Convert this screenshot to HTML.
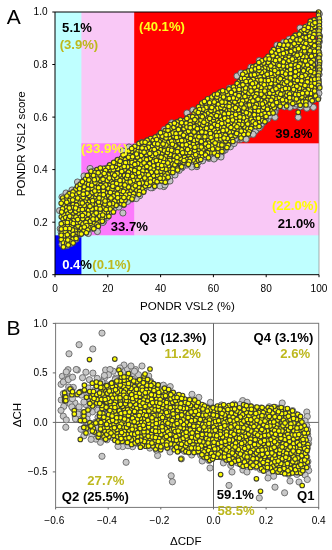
<!DOCTYPE html>
<html><head><meta charset="utf-8"><title>Figure</title>
<style>
html,body{margin:0;padding:0;background:#fff;}
svg{display:block;filter:blur(0.3px);}
text{font-family:"Liberation Sans",Arial,sans-serif;}
.t{font-size:10.1px;fill:#000;}
.at{font-size:11.6px;fill:#000;}
.b{font-size:13.1px;font-weight:bold;}
.pl{font-size:21px;}
</style></head><body>
<svg width="332" height="550" viewBox="0 0 332 550">
<rect x="0" y="0" width="332" height="550" fill="#fff"/>

<rect x="55.0" y="12.0" width="264.0" height="262.7" fill="#bfffff"/>
<rect x="81.4" y="12.0" width="237.6" height="223.3" fill="#f9c8f6"/>
<rect x="134.2" y="12.0" width="184.8" height="131.3" fill="#ff0000"/>
<rect x="81.4" y="143.3" width="52.8" height="91.9" fill="#fc7afc"/>
<rect x="55.0" y="235.3" width="26.4" height="39.4" fill="#0000ff"/>
<path d="M62.0,197.5 L68.5,194.6 L75.0,189.1 L81.5,183.1 L88.1,174.6 L94.6,170.3 L101.1,168.4 L107.6,166.6 L114.1,162.6 L120.6,157.5 L127.1,152.4 L133.6,147.5 L140.2,143.7 L146.7,141.0 L153.2,137.6 L159.7,133.8 L166.2,128.3 L172.7,123.4 L179.2,121.1 L185.7,118.6 L192.3,114.6 L198.8,107.0 L205.3,101.1 L211.8,96.8 L218.3,93.5 L224.8,90.2 L231.3,86.9 L237.8,80.8 L244.4,73.4 L250.9,68.2 L257.4,62.5 L263.9,59.2 L270.4,53.2 L276.9,47.5 L283.4,43.3 L289.9,39.6 L296.5,35.1 L303.0,29.8 L309.5,22.8 L316.0,16.7 L316.0,95.3 L309.5,98.8 L303.0,103.0 L296.5,103.0 L289.9,103.0 L283.4,104.0 L276.9,107.1 L270.4,113.6 L263.9,120.1 L257.4,126.6 L250.9,131.5 L244.4,135.5 L237.8,137.4 L231.3,142.7 L224.8,148.0 L218.3,152.8 L211.8,154.3 L205.3,155.7 L198.8,161.2 L192.3,163.0 L185.7,163.0 L179.2,168.5 L172.7,172.6 L166.2,180.5 L159.7,182.8 L153.2,184.9 L146.7,188.0 L140.2,193.1 L133.6,197.3 L127.1,201.2 L120.6,204.9 L114.1,208.9 L107.6,215.4 L101.1,221.9 L94.6,227.0 L88.1,230.6 L81.5,232.8 L75.0,239.0 L68.5,243.7 L62.0,243.6Z" fill="#3a3a2c"/>
<g fill="#c4c4c4" stroke="#555" stroke-width="0.9"><circle cx="143.6" cy="190.0" r="3.1"/><circle cx="227.0" cy="145.8" r="3.1"/><circle cx="197.6" cy="162.8" r="3.1"/><circle cx="75.8" cy="239.2" r="3.1"/><circle cx="70.6" cy="243.5" r="3.1"/><circle cx="78.8" cy="234.5" r="3.1"/><circle cx="169.3" cy="178.8" r="3.1"/><circle cx="92.6" cy="228.2" r="3.1"/><circle cx="221.0" cy="153.6" r="3.1"/><circle cx="208.2" cy="155.7" r="3.1"/><circle cx="309.9" cy="97.5" r="3.1"/><circle cx="279.9" cy="105.0" r="3.1"/><circle cx="97.8" cy="224.3" r="3.1"/><circle cx="139.7" cy="195.7" r="3.1"/><circle cx="107.1" cy="217.2" r="3.1"/><circle cx="223.9" cy="149.2" r="3.1"/><circle cx="200.7" cy="158.6" r="3.1"/><circle cx="234.5" cy="140.2" r="3.1"/><circle cx="176.6" cy="170.3" r="3.1"/><circle cx="263.6" cy="122.2" r="3.1"/><circle cx="123.2" cy="204.7" r="3.1"/><circle cx="247.0" cy="134.4" r="3.1"/><circle cx="256.0" cy="129.0" r="3.1"/><circle cx="284.2" cy="104.1" r="3.1"/><circle cx="275.2" cy="111.6" r="3.1"/><circle cx="181.9" cy="167.8" r="3.1"/><circle cx="270.6" cy="113.5" r="3.1"/><circle cx="159.4" cy="184.5" r="3.1"/><circle cx="66.8" cy="245.5" r="3.1"/><circle cx="132.0" cy="199.0" r="3.1"/><circle cx="152.5" cy="187.7" r="3.1"/><circle cx="305.2" cy="102.6" r="3.1"/><circle cx="62.0" cy="244.3" r="3.1"/><circle cx="192.5" cy="164.5" r="3.1"/><circle cx="290.4" cy="105.1" r="3.1"/><circle cx="87.4" cy="232.4" r="3.1"/><circle cx="114.2" cy="208.5" r="3.1"/><circle cx="147.7" cy="186.4" r="3.1"/><circle cx="82.9" cy="231.8" r="3.1"/><circle cx="127.6" cy="201.4" r="3.1"/><circle cx="103.6" cy="221.5" r="3.1"/><circle cx="267.9" cy="119.0" r="3.1"/><circle cx="118.8" cy="207.0" r="3.1"/><circle cx="299.9" cy="106.0" r="3.1"/><circle cx="111.2" cy="211.7" r="3.1"/><circle cx="252.3" cy="131.3" r="3.1"/><circle cx="239.3" cy="139.5" r="3.1"/><circle cx="260.9" cy="125.7" r="3.1"/><circle cx="188.5" cy="162.7" r="3.1"/><circle cx="164.2" cy="182.5" r="3.1"/><circle cx="243.6" cy="138.2" r="3.1"/><circle cx="315.7" cy="96.8" r="3.1"/><circle cx="297.3" cy="102.5" r="3.1"/><circle cx="214.3" cy="152.8" r="3.1"/><circle cx="136.2" cy="198.6" r="3.1"/><circle cx="230.4" cy="143.1" r="3.1"/><circle cx="184.1" cy="163.1" r="3.1"/><circle cx="172.5" cy="174.6" r="3.1"/><circle cx="154.6" cy="184.0" r="3.1"/><circle cx="203.9" cy="155.7" r="3.1"/><circle cx="213.2" cy="156.9" r="3.1"/><circle cx="309.5" cy="101.7" r="3.1"/><circle cx="276.1" cy="107.4" r="3.1"/><circle cx="217.5" cy="156.0" r="3.1"/><circle cx="294.9" cy="106.0" r="3.1"/><circle cx="96.8" cy="228.4" r="3.1"/><circle cx="276.9" cy="107.2" r="3.1"/><circle cx="313.2" cy="100.0" r="3.1"/><circle cx="230.4" cy="146.8" r="3.1"/><circle cx="296.4" cy="104.0" r="3.1"/><circle cx="234.1" cy="143.5" r="3.1"/><circle cx="269.9" cy="115.9" r="3.1"/><circle cx="265.2" cy="119.8" r="3.1"/><circle cx="241.3" cy="139.1" r="3.1"/><circle cx="290.9" cy="103.9" r="3.1"/><circle cx="235.2" cy="139.1" r="3.1"/><circle cx="284.4" cy="106.8" r="3.1"/><circle cx="274.3" cy="112.1" r="3.1"/><circle cx="248.6" cy="134.8" r="3.1"/><circle cx="304.1" cy="104.1" r="3.1"/><circle cx="255.7" cy="130.6" r="3.1"/><circle cx="308.9" cy="102.8" r="3.1"/><circle cx="261.7" cy="123.7" r="3.1"/><circle cx="225.2" cy="150.0" r="3.1"/><circle cx="315.7" cy="95.9" r="3.1"/><circle cx="300.3" cy="106.8" r="3.1"/><circle cx="259.3" cy="127.8" r="3.1"/><circle cx="246.1" cy="139.2" r="3.1"/><circle cx="253.1" cy="134.3" r="3.1"/><circle cx="223.0" cy="151.1" r="3.1"/><circle cx="209.0" cy="158.4" r="3.1"/><circle cx="179.1" cy="170.4" r="3.1"/><circle cx="186.8" cy="165.0" r="3.1"/><circle cx="157.1" cy="184.3" r="3.1"/><circle cx="170.0" cy="176.6" r="3.1"/><circle cx="202.6" cy="160.8" r="3.1"/><circle cx="166.7" cy="181.8" r="3.1"/><circle cx="212.2" cy="154.2" r="3.1"/><circle cx="215.5" cy="157.4" r="3.1"/><circle cx="150.8" cy="187.8" r="3.1"/><circle cx="198.1" cy="162.2" r="3.1"/><circle cx="191.8" cy="167.0" r="3.1"/><circle cx="175.0" cy="175.0" r="3.1"/><circle cx="220.9" cy="155.2" r="3.1"/><circle cx="163.8" cy="186.6" r="3.1"/><circle cx="182.6" cy="166.7" r="3.1"/><circle cx="196.9" cy="166.6" r="3.1"/><circle cx="204.7" cy="156.5" r="3.1"/><circle cx="161.6" cy="182.6" r="3.1"/><circle cx="84.3" cy="179.8" r="3.1"/><circle cx="283.7" cy="42.4" r="3.1"/><circle cx="187.7" cy="118.8" r="3.1"/><circle cx="278.3" cy="46.3" r="3.1"/><circle cx="259.3" cy="60.5" r="3.1"/><circle cx="117.5" cy="160.9" r="3.1"/><circle cx="164.4" cy="129.5" r="3.1"/><circle cx="147.9" cy="142.1" r="3.1"/><circle cx="106.6" cy="168.2" r="3.1"/><circle cx="210.9" cy="99.1" r="3.1"/><circle cx="141.6" cy="142.6" r="3.1"/><circle cx="250.9" cy="67.2" r="3.1"/><circle cx="137.1" cy="146.9" r="3.1"/><circle cx="308.0" cy="26.2" r="3.1"/><circle cx="216.3" cy="95.9" r="3.1"/><circle cx="289.3" cy="39.2" r="3.1"/><circle cx="273.7" cy="50.3" r="3.1"/><circle cx="128.9" cy="152.6" r="3.1"/><circle cx="171.8" cy="122.8" r="3.1"/><circle cx="229.6" cy="88.1" r="3.1"/><circle cx="95.1" cy="171.5" r="3.1"/><circle cx="301.2" cy="32.1" r="3.1"/><circle cx="295.7" cy="35.8" r="3.1"/><circle cx="243.1" cy="76.3" r="3.1"/><circle cx="181.8" cy="121.5" r="3.1"/><circle cx="195.5" cy="112.7" r="3.1"/><circle cx="79.9" cy="184.5" r="3.1"/><circle cx="66.7" cy="197.1" r="3.1"/><circle cx="76.0" cy="189.4" r="3.1"/><circle cx="159.0" cy="135.6" r="3.1"/><circle cx="319.3" cy="14.0" r="3.1"/><circle cx="318.7" cy="19.5" r="3.1"/><circle cx="318.7" cy="25.0" r="3.1"/><circle cx="318.5" cy="30.5" r="3.1"/><circle cx="319.6" cy="36.0" r="3.1"/><circle cx="319.4" cy="41.5" r="3.1"/><circle cx="318.4" cy="47.0" r="3.1"/><circle cx="318.7" cy="52.5" r="3.1"/><circle cx="318.6" cy="58.0" r="3.1"/><circle cx="318.7" cy="63.5" r="3.1"/><circle cx="319.1" cy="69.0" r="3.1"/><circle cx="319.1" cy="74.5" r="3.1"/><circle cx="318.4" cy="80.0" r="3.1"/><circle cx="318.6" cy="85.5" r="3.1"/><circle cx="90.1" cy="168.5" r="3.1"/><circle cx="93.5" cy="171.5" r="3.1"/><circle cx="77.5" cy="182.0" r="3.1"/><circle cx="72.0" cy="190.0" r="3.1"/><circle cx="62.0" cy="197.0" r="3.1"/><circle cx="59.6" cy="210.6" r="3.1"/><circle cx="60.3" cy="228.7" r="3.1"/><circle cx="61.2" cy="232.3" r="3.1"/><circle cx="88.3" cy="233.5" r="3.1"/><circle cx="97.4" cy="231.5" r="3.1"/><circle cx="102.8" cy="222.5" r="3.1"/><circle cx="66.0" cy="193.0" r="3.1"/><circle cx="84.0" cy="176.0" r="3.1"/><circle cx="123.0" cy="151.0" r="3.1"/><circle cx="129.0" cy="147.0" r="3.1"/><circle cx="187.0" cy="113.0" r="3.1"/><circle cx="193.0" cy="110.0" r="3.1"/><circle cx="237.0" cy="76.0" r="3.1"/><circle cx="241.0" cy="73.0" r="3.1"/><circle cx="277.0" cy="45.0" r="3.1"/><circle cx="300.0" cy="28.0" r="3.1"/><circle cx="122.9" cy="213.0" r="3.1"/><circle cx="160.0" cy="186.0" r="3.1"/><circle cx="165.0" cy="185.0" r="3.1"/><circle cx="170.0" cy="181.0" r="3.1"/><circle cx="214.0" cy="159.0" r="3.1"/><circle cx="221.0" cy="157.0" r="3.1"/><circle cx="318.0" cy="87.5" r="3.1"/><circle cx="318.9" cy="93.3" r="3.1"/><circle cx="318.0" cy="98.2" r="3.1"/><circle cx="289.9" cy="107.3" r="3.1"/><circle cx="306.8" cy="108.2" r="3.1"/><circle cx="313.4" cy="107.3" r="3.1"/><circle cx="298.2" cy="117.3" r="3.1"/><circle cx="275.0" cy="117.3" r="3.1"/><circle cx="304.8" cy="99.9" r="3.1"/><circle cx="308.9" cy="104.0" r="3.1"/></g>
<g fill="#ffff00" stroke="#3e3e2e" stroke-width="1.1"><circle cx="184.8" cy="140.8" r="2.3"/><circle cx="174.9" cy="130.6" r="2.3"/><circle cx="62.1" cy="232.0" r="2.3"/><circle cx="305.1" cy="26.8" r="2.3"/><circle cx="292.0" cy="92.4" r="2.3"/><circle cx="280.8" cy="63.1" r="2.3"/><circle cx="239.1" cy="100.6" r="2.3"/><circle cx="220.6" cy="126.9" r="2.3"/><circle cx="106.0" cy="193.0" r="2.3"/><circle cx="165.3" cy="147.9" r="2.3"/><circle cx="118.8" cy="201.1" r="2.3"/><circle cx="180.7" cy="158.8" r="2.3"/><circle cx="85.1" cy="182.9" r="2.3"/><circle cx="91.1" cy="216.3" r="2.3"/><circle cx="285.0" cy="97.8" r="2.3"/><circle cx="282.2" cy="86.2" r="2.3"/><circle cx="194.2" cy="113.3" r="2.3"/><circle cx="179.9" cy="143.2" r="2.3"/><circle cx="191.8" cy="149.7" r="2.3"/><circle cx="218.4" cy="104.6" r="2.3"/><circle cx="150.2" cy="158.5" r="2.3"/><circle cx="244.8" cy="127.0" r="2.3"/><circle cx="230.7" cy="95.6" r="2.3"/><circle cx="278.5" cy="47.4" r="2.3"/><circle cx="80.7" cy="205.7" r="2.3"/><circle cx="136.3" cy="183.1" r="2.3"/><circle cx="201.9" cy="106.0" r="2.3"/><circle cx="111.5" cy="200.8" r="2.3"/><circle cx="185.3" cy="147.6" r="2.3"/><circle cx="112.4" cy="173.5" r="2.3"/><circle cx="309.7" cy="74.2" r="2.3"/><circle cx="70.3" cy="197.7" r="2.3"/><circle cx="101.0" cy="171.8" r="2.3"/><circle cx="110.2" cy="169.8" r="2.3"/><circle cx="115.3" cy="190.2" r="2.3"/><circle cx="252.7" cy="93.8" r="2.3"/><circle cx="286.1" cy="41.3" r="2.3"/><circle cx="61.3" cy="216.8" r="2.3"/><circle cx="165.1" cy="130.7" r="2.3"/><circle cx="196.4" cy="143.3" r="2.3"/><circle cx="71.6" cy="226.2" r="2.3"/><circle cx="121.4" cy="158.0" r="2.3"/><circle cx="165.9" cy="179.6" r="2.3"/><circle cx="146.5" cy="171.7" r="2.3"/><circle cx="313.9" cy="40.7" r="2.3"/><circle cx="277.7" cy="77.1" r="2.3"/><circle cx="253.9" cy="89.9" r="2.3"/><circle cx="285.8" cy="56.1" r="2.3"/><circle cx="153.3" cy="169.4" r="2.3"/><circle cx="216.5" cy="120.4" r="2.3"/><circle cx="170.5" cy="128.7" r="2.3"/><circle cx="174.7" cy="141.6" r="2.3"/><circle cx="248.5" cy="70.9" r="2.3"/><circle cx="112.1" cy="206.5" r="2.3"/><circle cx="209.3" cy="130.1" r="2.3"/><circle cx="239.5" cy="128.4" r="2.3"/><circle cx="113.4" cy="193.0" r="2.3"/><circle cx="127.1" cy="191.7" r="2.3"/><circle cx="81.4" cy="212.2" r="2.3"/><circle cx="184.6" cy="157.2" r="2.3"/><circle cx="68.9" cy="237.4" r="2.3"/><circle cx="284.4" cy="80.2" r="2.3"/><circle cx="105.0" cy="197.6" r="2.3"/><circle cx="314.3" cy="88.0" r="2.3"/><circle cx="136.6" cy="193.5" r="2.3"/><circle cx="122.6" cy="163.5" r="2.3"/><circle cx="92.2" cy="192.8" r="2.3"/><circle cx="102.4" cy="202.6" r="2.3"/><circle cx="95.3" cy="187.5" r="2.3"/><circle cx="184.6" cy="120.5" r="2.3"/><circle cx="296.6" cy="90.9" r="2.3"/><circle cx="84.2" cy="187.1" r="2.3"/><circle cx="217.2" cy="151.9" r="2.3"/><circle cx="78.0" cy="213.8" r="2.3"/><circle cx="76.0" cy="228.2" r="2.3"/><circle cx="64.6" cy="240.1" r="2.3"/><circle cx="212.5" cy="140.7" r="2.3"/><circle cx="78.0" cy="226.1" r="2.3"/><circle cx="133.4" cy="153.8" r="2.3"/><circle cx="80.6" cy="199.4" r="2.3"/><circle cx="252.7" cy="66.9" r="2.3"/><circle cx="80.1" cy="230.9" r="2.3"/><circle cx="73.2" cy="212.9" r="2.3"/><circle cx="107.3" cy="205.9" r="2.3"/><circle cx="286.6" cy="47.8" r="2.3"/><circle cx="91.2" cy="212.7" r="2.3"/><circle cx="169.5" cy="137.8" r="2.3"/><circle cx="302.2" cy="73.3" r="2.3"/><circle cx="298.2" cy="74.5" r="2.3"/><circle cx="99.1" cy="221.9" r="2.3"/><circle cx="125.9" cy="154.3" r="2.3"/><circle cx="270.3" cy="106.8" r="2.3"/><circle cx="198.4" cy="153.3" r="2.3"/><circle cx="203.9" cy="139.6" r="2.3"/><circle cx="136.5" cy="167.3" r="2.3"/><circle cx="179.6" cy="162.8" r="2.3"/><circle cx="73.2" cy="204.5" r="2.3"/><circle cx="67.9" cy="205.0" r="2.3"/><circle cx="125.1" cy="188.6" r="2.3"/><circle cx="226.6" cy="110.2" r="2.3"/><circle cx="262.1" cy="110.2" r="2.3"/><circle cx="63.4" cy="205.6" r="2.3"/><circle cx="79.4" cy="203.1" r="2.3"/><circle cx="95.1" cy="205.1" r="2.3"/><circle cx="196.9" cy="125.6" r="2.3"/><circle cx="242.6" cy="89.8" r="2.3"/><circle cx="241.9" cy="97.3" r="2.3"/><circle cx="103.5" cy="168.3" r="2.3"/><circle cx="188.6" cy="140.6" r="2.3"/><circle cx="239.7" cy="120.8" r="2.3"/><circle cx="173.5" cy="160.6" r="2.3"/><circle cx="239.4" cy="81.3" r="2.3"/><circle cx="98.3" cy="183.4" r="2.3"/><circle cx="299.4" cy="60.8" r="2.3"/><circle cx="283.6" cy="69.7" r="2.3"/><circle cx="268.1" cy="56.3" r="2.3"/><circle cx="104.0" cy="182.3" r="2.3"/><circle cx="136.3" cy="190.0" r="2.3"/><circle cx="85.6" cy="217.3" r="2.3"/><circle cx="90.6" cy="174.3" r="2.3"/><circle cx="250.0" cy="101.4" r="2.3"/><circle cx="160.6" cy="145.5" r="2.3"/><circle cx="256.3" cy="121.0" r="2.3"/><circle cx="277.5" cy="57.4" r="2.3"/><circle cx="108.4" cy="174.9" r="2.3"/><circle cx="217.4" cy="108.3" r="2.3"/><circle cx="121.4" cy="194.1" r="2.3"/><circle cx="161.2" cy="175.3" r="2.3"/><circle cx="295.0" cy="83.1" r="2.3"/><circle cx="80.7" cy="195.9" r="2.3"/><circle cx="232.2" cy="112.8" r="2.3"/><circle cx="210.8" cy="122.0" r="2.3"/><circle cx="105.5" cy="176.0" r="2.3"/><circle cx="143.1" cy="158.5" r="2.3"/><circle cx="122.0" cy="178.2" r="2.3"/><circle cx="120.7" cy="187.6" r="2.3"/><circle cx="148.9" cy="143.6" r="2.3"/><circle cx="286.1" cy="63.4" r="2.3"/><circle cx="238.9" cy="114.1" r="2.3"/><circle cx="184.0" cy="128.7" r="2.3"/><circle cx="301.4" cy="46.2" r="2.3"/><circle cx="235.4" cy="121.4" r="2.3"/><circle cx="246.7" cy="108.8" r="2.3"/><circle cx="96.3" cy="199.4" r="2.3"/><circle cx="105.3" cy="216.5" r="2.3"/><circle cx="215.7" cy="146.8" r="2.3"/><circle cx="144.2" cy="145.5" r="2.3"/><circle cx="237.3" cy="105.3" r="2.3"/><circle cx="210.9" cy="152.8" r="2.3"/><circle cx="73.0" cy="238.9" r="2.3"/><circle cx="157.9" cy="156.0" r="2.3"/><circle cx="225.2" cy="123.0" r="2.3"/><circle cx="310.6" cy="96.5" r="2.3"/><circle cx="181.6" cy="149.8" r="2.3"/><circle cx="77.2" cy="222.5" r="2.3"/><circle cx="135.3" cy="173.8" r="2.3"/><circle cx="251.8" cy="124.4" r="2.3"/><circle cx="83.8" cy="191.2" r="2.3"/><circle cx="66.4" cy="207.5" r="2.3"/><circle cx="314.0" cy="19.9" r="2.3"/><circle cx="251.3" cy="75.1" r="2.3"/><circle cx="130.0" cy="177.9" r="2.3"/><circle cx="131.3" cy="190.8" r="2.3"/><circle cx="128.8" cy="162.6" r="2.3"/><circle cx="306.6" cy="40.6" r="2.3"/><circle cx="217.1" cy="128.8" r="2.3"/><circle cx="92.2" cy="204.3" r="2.3"/><circle cx="276.8" cy="95.4" r="2.3"/><circle cx="281.7" cy="82.4" r="2.3"/><circle cx="180.4" cy="120.1" r="2.3"/><circle cx="294.1" cy="40.7" r="2.3"/><circle cx="206.0" cy="110.6" r="2.3"/><circle cx="183.8" cy="124.8" r="2.3"/><circle cx="152.2" cy="146.5" r="2.3"/><circle cx="141.1" cy="179.9" r="2.3"/><circle cx="214.2" cy="130.3" r="2.3"/><circle cx="283.6" cy="93.6" r="2.3"/><circle cx="289.9" cy="101.0" r="2.3"/><circle cx="80.3" cy="222.2" r="2.3"/><circle cx="308.0" cy="85.9" r="2.3"/><circle cx="135.2" cy="177.8" r="2.3"/><circle cx="227.8" cy="117.8" r="2.3"/><circle cx="246.8" cy="85.2" r="2.3"/><circle cx="75.3" cy="189.8" r="2.3"/><circle cx="177.2" cy="121.9" r="2.3"/><circle cx="150.5" cy="138.5" r="2.3"/><circle cx="67.4" cy="225.8" r="2.3"/><circle cx="272.6" cy="59.7" r="2.3"/><circle cx="292.3" cy="48.8" r="2.3"/><circle cx="267.6" cy="84.1" r="2.3"/><circle cx="201.3" cy="112.7" r="2.3"/><circle cx="248.2" cy="79.5" r="2.3"/><circle cx="232.2" cy="131.4" r="2.3"/><circle cx="88.7" cy="202.0" r="2.3"/><circle cx="96.5" cy="219.0" r="2.3"/><circle cx="203.9" cy="129.6" r="2.3"/><circle cx="229.7" cy="109.5" r="2.3"/><circle cx="250.7" cy="107.9" r="2.3"/><circle cx="273.3" cy="102.3" r="2.3"/><circle cx="213.3" cy="120.1" r="2.3"/><circle cx="264.8" cy="80.7" r="2.3"/><circle cx="98.7" cy="190.8" r="2.3"/><circle cx="162.2" cy="153.3" r="2.3"/><circle cx="250.3" cy="97.7" r="2.3"/><circle cx="199.7" cy="115.4" r="2.3"/><circle cx="166.5" cy="159.9" r="2.3"/><circle cx="207.6" cy="98.8" r="2.3"/><circle cx="229.2" cy="132.0" r="2.3"/><circle cx="235.5" cy="94.6" r="2.3"/><circle cx="154.7" cy="157.7" r="2.3"/><circle cx="193.2" cy="137.2" r="2.3"/><circle cx="189.2" cy="155.5" r="2.3"/><circle cx="109.6" cy="164.9" r="2.3"/><circle cx="267.1" cy="105.4" r="2.3"/><circle cx="187.7" cy="137.3" r="2.3"/><circle cx="308.3" cy="60.5" r="2.3"/><circle cx="243.8" cy="121.7" r="2.3"/><circle cx="99.3" cy="206.1" r="2.3"/><circle cx="237.1" cy="130.2" r="2.3"/><circle cx="268.4" cy="71.5" r="2.3"/><circle cx="153.6" cy="175.8" r="2.3"/><circle cx="121.0" cy="167.2" r="2.3"/><circle cx="266.9" cy="65.9" r="2.3"/><circle cx="124.0" cy="180.7" r="2.3"/><circle cx="261.1" cy="100.4" r="2.3"/><circle cx="117.7" cy="168.8" r="2.3"/><circle cx="297.8" cy="52.0" r="2.3"/><circle cx="261.4" cy="117.9" r="2.3"/><circle cx="117.1" cy="180.5" r="2.3"/><circle cx="211.7" cy="145.7" r="2.3"/><circle cx="194.1" cy="126.7" r="2.3"/><circle cx="129.6" cy="153.9" r="2.3"/><circle cx="219.8" cy="92.2" r="2.3"/><circle cx="76.1" cy="200.6" r="2.3"/><circle cx="236.5" cy="86.9" r="2.3"/><circle cx="219.1" cy="141.6" r="2.3"/><circle cx="275.4" cy="85.9" r="2.3"/><circle cx="196.3" cy="117.2" r="2.3"/><circle cx="298.4" cy="37.2" r="2.3"/><circle cx="207.0" cy="116.9" r="2.3"/><circle cx="302.9" cy="37.4" r="2.3"/><circle cx="244.0" cy="114.8" r="2.3"/><circle cx="169.4" cy="169.3" r="2.3"/><circle cx="250.3" cy="111.1" r="2.3"/><circle cx="208.7" cy="125.8" r="2.3"/><circle cx="240.9" cy="107.0" r="2.3"/><circle cx="260.9" cy="65.2" r="2.3"/><circle cx="268.4" cy="97.5" r="2.3"/><circle cx="110.1" cy="184.3" r="2.3"/><circle cx="172.0" cy="163.7" r="2.3"/><circle cx="124.9" cy="169.8" r="2.3"/><circle cx="298.5" cy="42.6" r="2.3"/><circle cx="147.1" cy="140.2" r="2.3"/><circle cx="197.5" cy="121.7" r="2.3"/><circle cx="141.2" cy="155.6" r="2.3"/><circle cx="216.3" cy="132.5" r="2.3"/><circle cx="107.3" cy="212.4" r="2.3"/><circle cx="276.7" cy="63.4" r="2.3"/><circle cx="146.6" cy="154.7" r="2.3"/><circle cx="227.9" cy="94.4" r="2.3"/><circle cx="72.7" cy="217.6" r="2.3"/><circle cx="290.8" cy="40.6" r="2.3"/><circle cx="153.2" cy="140.3" r="2.3"/><circle cx="76.2" cy="194.2" r="2.3"/><circle cx="121.3" cy="203.7" r="2.3"/><circle cx="208.4" cy="139.9" r="2.3"/><circle cx="179.2" cy="155.5" r="2.3"/><circle cx="164.1" cy="171.9" r="2.3"/><circle cx="169.0" cy="145.7" r="2.3"/><circle cx="115.5" cy="166.4" r="2.3"/><circle cx="247.3" cy="116.6" r="2.3"/><circle cx="131.9" cy="166.0" r="2.3"/><circle cx="275.8" cy="53.2" r="2.3"/><circle cx="304.2" cy="82.8" r="2.3"/><circle cx="115.9" cy="186.4" r="2.3"/><circle cx="96.2" cy="208.2" r="2.3"/><circle cx="153.6" cy="165.7" r="2.3"/><circle cx="75.8" cy="211.6" r="2.3"/><circle cx="143.2" cy="167.8" r="2.3"/><circle cx="306.2" cy="37.7" r="2.3"/><circle cx="263.8" cy="63.1" r="2.3"/><circle cx="313.3" cy="64.7" r="2.3"/><circle cx="214.2" cy="113.9" r="2.3"/><circle cx="195.9" cy="110.9" r="2.3"/><circle cx="213.2" cy="104.9" r="2.3"/><circle cx="150.0" cy="167.9" r="2.3"/><circle cx="313.3" cy="59.9" r="2.3"/><circle cx="258.7" cy="107.1" r="2.3"/><circle cx="110.1" cy="209.0" r="2.3"/><circle cx="134.8" cy="161.3" r="2.3"/><circle cx="91.9" cy="177.9" r="2.3"/><circle cx="192.8" cy="122.1" r="2.3"/><circle cx="257.0" cy="76.8" r="2.3"/><circle cx="166.2" cy="155.9" r="2.3"/><circle cx="161.9" cy="139.2" r="2.3"/><circle cx="62.7" cy="198.1" r="2.3"/><circle cx="261.8" cy="60.8" r="2.3"/><circle cx="80.0" cy="217.4" r="2.3"/><circle cx="163.5" cy="133.4" r="2.3"/><circle cx="226.1" cy="91.5" r="2.3"/><circle cx="286.8" cy="95.2" r="2.3"/><circle cx="174.4" cy="151.4" r="2.3"/><circle cx="66.7" cy="210.8" r="2.3"/><circle cx="125.3" cy="159.7" r="2.3"/><circle cx="85.2" cy="208.2" r="2.3"/><circle cx="199.1" cy="149.3" r="2.3"/><circle cx="234.3" cy="128.4" r="2.3"/><circle cx="289.3" cy="54.2" r="2.3"/><circle cx="264.7" cy="113.4" r="2.3"/><circle cx="120.9" cy="197.7" r="2.3"/><circle cx="204.3" cy="152.1" r="2.3"/><circle cx="63.3" cy="226.4" r="2.3"/><circle cx="267.9" cy="89.5" r="2.3"/><circle cx="247.7" cy="96.0" r="2.3"/><circle cx="132.5" cy="184.0" r="2.3"/><circle cx="203.8" cy="119.4" r="2.3"/><circle cx="293.7" cy="97.9" r="2.3"/><circle cx="314.4" cy="54.8" r="2.3"/><circle cx="63.9" cy="214.7" r="2.3"/><circle cx="137.8" cy="147.4" r="2.3"/><circle cx="66.4" cy="198.9" r="2.3"/><circle cx="219.3" cy="132.4" r="2.3"/><circle cx="246.6" cy="120.8" r="2.3"/><circle cx="221.0" cy="112.3" r="2.3"/><circle cx="310.3" cy="21.2" r="2.3"/><circle cx="274.8" cy="74.7" r="2.3"/><circle cx="221.5" cy="119.6" r="2.3"/><circle cx="301.2" cy="68.7" r="2.3"/><circle cx="289.0" cy="57.3" r="2.3"/><circle cx="116.6" cy="163.2" r="2.3"/><circle cx="234.9" cy="136.0" r="2.3"/><circle cx="231.6" cy="100.7" r="2.3"/><circle cx="232.3" cy="106.0" r="2.3"/><circle cx="96.8" cy="176.1" r="2.3"/><circle cx="129.5" cy="194.4" r="2.3"/><circle cx="273.7" cy="49.6" r="2.3"/><circle cx="313.3" cy="69.7" r="2.3"/><circle cx="152.8" cy="183.9" r="2.3"/><circle cx="250.0" cy="122.1" r="2.3"/><circle cx="225.9" cy="99.1" r="2.3"/><circle cx="100.7" cy="212.9" r="2.3"/><circle cx="160.5" cy="149.8" r="2.3"/><circle cx="77.5" cy="186.2" r="2.3"/><circle cx="234.5" cy="125.0" r="2.3"/><circle cx="287.2" cy="71.5" r="2.3"/><circle cx="158.3" cy="168.0" r="2.3"/><circle cx="211.4" cy="100.3" r="2.3"/><circle cx="261.5" cy="83.4" r="2.3"/><circle cx="179.7" cy="138.0" r="2.3"/><circle cx="177.8" cy="148.2" r="2.3"/><circle cx="234.9" cy="102.0" r="2.3"/><circle cx="311.6" cy="90.3" r="2.3"/><circle cx="308.5" cy="45.9" r="2.3"/><circle cx="189.2" cy="143.6" r="2.3"/><circle cx="246.3" cy="75.3" r="2.3"/><circle cx="104.3" cy="212.6" r="2.3"/><circle cx="223.8" cy="108.2" r="2.3"/><circle cx="139.9" cy="160.2" r="2.3"/><circle cx="158.0" cy="136.2" r="2.3"/><circle cx="131.3" cy="159.3" r="2.3"/><circle cx="265.4" cy="88.0" r="2.3"/><circle cx="170.4" cy="124.5" r="2.3"/><circle cx="142.2" cy="183.1" r="2.3"/><circle cx="173.9" cy="136.2" r="2.3"/><circle cx="76.5" cy="205.2" r="2.3"/><circle cx="108.7" cy="195.7" r="2.3"/><circle cx="103.3" cy="190.7" r="2.3"/><circle cx="313.9" cy="31.3" r="2.3"/><circle cx="233.4" cy="87.1" r="2.3"/><circle cx="172.1" cy="147.4" r="2.3"/><circle cx="157.2" cy="178.7" r="2.3"/><circle cx="230.9" cy="136.0" r="2.3"/><circle cx="170.6" cy="172.2" r="2.3"/><circle cx="305.6" cy="68.0" r="2.3"/><circle cx="85.9" cy="198.7" r="2.3"/><circle cx="103.8" cy="207.6" r="2.3"/><circle cx="276.1" cy="98.8" r="2.3"/><circle cx="169.5" cy="157.4" r="2.3"/><circle cx="287.8" cy="66.5" r="2.3"/><circle cx="294.5" cy="79.4" r="2.3"/><circle cx="81.6" cy="228.3" r="2.3"/><circle cx="280.0" cy="101.4" r="2.3"/><circle cx="232.1" cy="116.8" r="2.3"/><circle cx="309.9" cy="33.0" r="2.3"/><circle cx="84.0" cy="230.4" r="2.3"/><circle cx="100.4" cy="180.5" r="2.3"/><circle cx="279.4" cy="97.6" r="2.3"/><circle cx="190.9" cy="135.2" r="2.3"/><circle cx="186.2" cy="123.2" r="2.3"/><circle cx="230.5" cy="122.7" r="2.3"/><circle cx="90.8" cy="182.1" r="2.3"/><circle cx="134.3" cy="149.7" r="2.3"/><circle cx="199.0" cy="133.7" r="2.3"/><circle cx="239.3" cy="92.5" r="2.3"/><circle cx="292.7" cy="86.3" r="2.3"/><circle cx="236.7" cy="98.3" r="2.3"/><circle cx="216.9" cy="138.9" r="2.3"/><circle cx="83.0" cy="224.1" r="2.3"/><circle cx="272.9" cy="55.8" r="2.3"/><circle cx="304.8" cy="54.1" r="2.3"/><circle cx="234.2" cy="90.1" r="2.3"/><circle cx="87.6" cy="219.6" r="2.3"/><circle cx="206.4" cy="104.0" r="2.3"/><circle cx="170.2" cy="154.4" r="2.3"/><circle cx="142.3" cy="188.6" r="2.3"/><circle cx="124.5" cy="175.4" r="2.3"/><circle cx="235.1" cy="111.2" r="2.3"/><circle cx="309.5" cy="53.8" r="2.3"/><circle cx="198.9" cy="156.7" r="2.3"/><circle cx="304.3" cy="98.6" r="2.3"/><circle cx="243.6" cy="93.8" r="2.3"/><circle cx="133.6" cy="193.7" r="2.3"/><circle cx="70.4" cy="241.5" r="2.3"/><circle cx="177.3" cy="151.7" r="2.3"/><circle cx="127.0" cy="182.4" r="2.3"/><circle cx="185.8" cy="132.8" r="2.3"/><circle cx="253.8" cy="71.8" r="2.3"/><circle cx="195.4" cy="162.0" r="2.3"/><circle cx="70.2" cy="231.8" r="2.3"/><circle cx="267.0" cy="100.2" r="2.3"/><circle cx="167.1" cy="174.0" r="2.3"/><circle cx="180.2" cy="132.9" r="2.3"/><circle cx="219.6" cy="116.1" r="2.3"/><circle cx="159.2" cy="141.4" r="2.3"/><circle cx="94.2" cy="223.4" r="2.3"/><circle cx="141.2" cy="164.8" r="2.3"/><circle cx="75.3" cy="231.0" r="2.3"/><circle cx="309.6" cy="36.3" r="2.3"/><circle cx="120.1" cy="183.9" r="2.3"/><circle cx="257.5" cy="73.6" r="2.3"/><circle cx="260.9" cy="91.3" r="2.3"/><circle cx="252.3" cy="105.1" r="2.3"/><circle cx="149.5" cy="163.7" r="2.3"/><circle cx="79.2" cy="192.5" r="2.3"/><circle cx="65.3" cy="231.6" r="2.3"/><circle cx="206.5" cy="123.8" r="2.3"/><circle cx="172.8" cy="133.1" r="2.3"/><circle cx="90.7" cy="224.8" r="2.3"/><circle cx="251.1" cy="116.4" r="2.3"/><circle cx="289.8" cy="81.0" r="2.3"/><circle cx="164.7" cy="141.3" r="2.3"/><circle cx="312.9" cy="48.7" r="2.3"/><circle cx="119.6" cy="175.1" r="2.3"/><circle cx="76.5" cy="233.9" r="2.3"/><circle cx="240.0" cy="135.2" r="2.3"/><circle cx="304.0" cy="78.2" r="2.3"/><circle cx="94.3" cy="196.9" r="2.3"/><circle cx="299.4" cy="98.7" r="2.3"/><circle cx="270.1" cy="103.7" r="2.3"/><circle cx="263.7" cy="107.2" r="2.3"/><circle cx="208.3" cy="113.3" r="2.3"/><circle cx="113.4" cy="195.9" r="2.3"/><circle cx="248.7" cy="89.3" r="2.3"/><circle cx="121.7" cy="171.6" r="2.3"/><circle cx="287.4" cy="92.0" r="2.3"/><circle cx="311.2" cy="93.5" r="2.3"/><circle cx="146.5" cy="159.7" r="2.3"/><circle cx="264.4" cy="75.7" r="2.3"/><circle cx="264.0" cy="96.7" r="2.3"/><circle cx="269.1" cy="113.3" r="2.3"/><circle cx="128.4" cy="187.0" r="2.3"/><circle cx="260.9" cy="114.4" r="2.3"/><circle cx="182.4" cy="144.9" r="2.3"/><circle cx="282.7" cy="75.8" r="2.3"/><circle cx="172.9" cy="169.1" r="2.3"/><circle cx="151.2" cy="149.9" r="2.3"/><circle cx="168.3" cy="142.8" r="2.3"/><circle cx="72.8" cy="207.6" r="2.3"/><circle cx="192.9" cy="153.1" r="2.3"/><circle cx="222.8" cy="141.7" r="2.3"/><circle cx="259.0" cy="96.4" r="2.3"/><circle cx="201.8" cy="103.0" r="2.3"/><circle cx="154.6" cy="143.7" r="2.3"/><circle cx="245.3" cy="91.3" r="2.3"/><circle cx="147.1" cy="180.1" r="2.3"/><circle cx="208.6" cy="143.2" r="2.3"/><circle cx="157.7" cy="175.4" r="2.3"/><circle cx="282.2" cy="49.4" r="2.3"/><circle cx="298.8" cy="57.7" r="2.3"/><circle cx="224.6" cy="146.1" r="2.3"/><circle cx="151.3" cy="172.3" r="2.3"/><circle cx="305.0" cy="32.8" r="2.3"/><circle cx="221.6" cy="149.2" r="2.3"/><circle cx="88.6" cy="210.2" r="2.3"/><circle cx="64.4" cy="235.8" r="2.3"/><circle cx="89.7" cy="227.5" r="2.3"/><circle cx="244.6" cy="103.2" r="2.3"/><circle cx="251.0" cy="86.9" r="2.3"/><circle cx="266.8" cy="93.1" r="2.3"/><circle cx="311.1" cy="83.4" r="2.3"/><circle cx="128.6" cy="197.6" r="2.3"/><circle cx="285.4" cy="59.2" r="2.3"/><circle cx="302.9" cy="65.0" r="2.3"/><circle cx="214.1" cy="117.3" r="2.3"/><circle cx="237.2" cy="83.4" r="2.3"/><circle cx="299.9" cy="91.2" r="2.3"/><circle cx="268.7" cy="68.2" r="2.3"/><circle cx="112.9" cy="178.4" r="2.3"/><circle cx="160.5" cy="161.2" r="2.3"/><circle cx="296.6" cy="46.5" r="2.3"/><circle cx="223.9" cy="127.5" r="2.3"/><circle cx="200.2" cy="123.5" r="2.3"/><circle cx="278.8" cy="89.6" r="2.3"/><circle cx="258.3" cy="124.3" r="2.3"/><circle cx="114.8" cy="201.0" r="2.3"/><circle cx="242.7" cy="81.8" r="2.3"/><circle cx="79.6" cy="188.7" r="2.3"/><circle cx="292.7" cy="61.7" r="2.3"/><circle cx="153.1" cy="152.3" r="2.3"/><circle cx="294.4" cy="54.2" r="2.3"/><circle cx="290.9" cy="65.3" r="2.3"/><circle cx="196.0" cy="158.0" r="2.3"/><circle cx="62.5" cy="208.8" r="2.3"/><circle cx="236.3" cy="117.4" r="2.3"/><circle cx="98.6" cy="202.0" r="2.3"/><circle cx="183.6" cy="135.3" r="2.3"/><circle cx="276.1" cy="105.4" r="2.3"/><circle cx="125.0" cy="200.2" r="2.3"/><circle cx="307.5" cy="72.3" r="2.3"/><circle cx="268.8" cy="77.5" r="2.3"/><circle cx="193.1" cy="159.9" r="2.3"/><circle cx="220.3" cy="96.5" r="2.3"/><circle cx="303.3" cy="88.4" r="2.3"/><circle cx="116.1" cy="205.3" r="2.3"/><circle cx="306.1" cy="56.8" r="2.3"/><circle cx="275.4" cy="82.9" r="2.3"/><circle cx="130.9" cy="169.7" r="2.3"/><circle cx="277.4" cy="68.8" r="2.3"/><circle cx="163.7" cy="158.8" r="2.3"/><circle cx="214.0" cy="110.0" r="2.3"/><circle cx="261.1" cy="94.3" r="2.3"/><circle cx="88.6" cy="184.6" r="2.3"/><circle cx="74.5" cy="197.8" r="2.3"/><circle cx="196.0" cy="136.2" r="2.3"/><circle cx="63.1" cy="219.1" r="2.3"/><circle cx="295.6" cy="60.3" r="2.3"/><circle cx="139.3" cy="168.3" r="2.3"/><circle cx="91.9" cy="188.2" r="2.3"/><circle cx="290.6" cy="73.5" r="2.3"/><circle cx="286.8" cy="85.4" r="2.3"/><circle cx="302.6" cy="59.6" r="2.3"/><circle cx="302.8" cy="42.3" r="2.3"/><circle cx="179.5" cy="126.3" r="2.3"/><circle cx="288.5" cy="88.5" r="2.3"/><circle cx="175.0" cy="145.7" r="2.3"/><circle cx="222.4" cy="133.9" r="2.3"/><circle cx="82.7" cy="218.7" r="2.3"/><circle cx="300.6" cy="84.2" r="2.3"/><circle cx="229.6" cy="140.6" r="2.3"/><circle cx="100.2" cy="175.1" r="2.3"/><circle cx="126.6" cy="178.0" r="2.3"/><circle cx="273.2" cy="93.3" r="2.3"/><circle cx="245.4" cy="131.3" r="2.3"/><circle cx="120.3" cy="190.6" r="2.3"/><circle cx="191.3" cy="130.4" r="2.3"/><circle cx="144.9" cy="174.6" r="2.3"/><circle cx="163.5" cy="162.5" r="2.3"/><circle cx="255.9" cy="101.3" r="2.3"/><circle cx="256.9" cy="90.3" r="2.3"/><circle cx="289.0" cy="60.7" r="2.3"/><circle cx="63.2" cy="201.1" r="2.3"/><circle cx="285.9" cy="100.5" r="2.3"/><circle cx="229.0" cy="88.9" r="2.3"/><circle cx="229.0" cy="103.7" r="2.3"/><circle cx="255.8" cy="126.7" r="2.3"/><circle cx="260.0" cy="77.1" r="2.3"/><circle cx="147.1" cy="151.7" r="2.3"/><circle cx="154.3" cy="180.5" r="2.3"/><circle cx="61.3" cy="229.1" r="2.3"/><circle cx="269.7" cy="93.3" r="2.3"/><circle cx="123.4" cy="191.4" r="2.3"/><circle cx="228.2" cy="144.9" r="2.3"/><circle cx="243.8" cy="134.6" r="2.3"/><circle cx="100.7" cy="185.5" r="2.3"/><circle cx="302.8" cy="56.5" r="2.3"/><circle cx="281.5" cy="56.8" r="2.3"/><circle cx="247.9" cy="128.7" r="2.3"/><circle cx="307.3" cy="78.0" r="2.3"/><circle cx="190.2" cy="120.7" r="2.3"/><circle cx="110.8" cy="181.2" r="2.3"/><circle cx="265.8" cy="59.1" r="2.3"/><circle cx="93.8" cy="215.0" r="2.3"/><circle cx="130.6" cy="174.0" r="2.3"/><circle cx="281.1" cy="68.1" r="2.3"/><circle cx="311.4" cy="56.2" r="2.3"/><circle cx="186.2" cy="152.4" r="2.3"/><circle cx="205.7" cy="132.7" r="2.3"/><circle cx="173.9" cy="127.2" r="2.3"/><circle cx="272.7" cy="97.6" r="2.3"/><circle cx="305.0" cy="95.0" r="2.3"/><circle cx="256.1" cy="65.7" r="2.3"/><circle cx="291.0" cy="51.6" r="2.3"/><circle cx="169.8" cy="160.4" r="2.3"/><circle cx="299.4" cy="88.2" r="2.3"/><circle cx="194.1" cy="140.6" r="2.3"/><circle cx="283.1" cy="65.9" r="2.3"/><circle cx="128.4" cy="172.2" r="2.3"/><circle cx="219.8" cy="99.8" r="2.3"/><circle cx="220.9" cy="107.5" r="2.3"/><circle cx="268.4" cy="62.5" r="2.3"/><circle cx="117.3" cy="193.9" r="2.3"/><circle cx="255.6" cy="118.0" r="2.3"/><circle cx="211.9" cy="97.0" r="2.3"/><circle cx="138.7" cy="187.0" r="2.3"/><circle cx="214.4" cy="124.6" r="2.3"/><circle cx="83.2" cy="197.3" r="2.3"/><circle cx="78.8" cy="209.8" r="2.3"/><circle cx="80.2" cy="184.2" r="2.3"/><circle cx="228.4" cy="125.3" r="2.3"/><circle cx="85.5" cy="179.1" r="2.3"/><circle cx="168.6" cy="165.8" r="2.3"/><circle cx="148.3" cy="147.2" r="2.3"/><circle cx="107.3" cy="180.4" r="2.3"/><circle cx="160.8" cy="171.2" r="2.3"/><circle cx="208.6" cy="149.2" r="2.3"/><circle cx="108.2" cy="188.2" r="2.3"/><circle cx="186.8" cy="159.6" r="2.3"/><circle cx="158.2" cy="164.5" r="2.3"/><circle cx="299.5" cy="78.5" r="2.3"/><circle cx="176.0" cy="133.7" r="2.3"/><circle cx="311.2" cy="67.4" r="2.3"/><circle cx="108.0" cy="201.4" r="2.3"/><circle cx="301.8" cy="96.9" r="2.3"/><circle cx="224.3" cy="113.9" r="2.3"/><circle cx="311.7" cy="79.7" r="2.3"/><circle cx="216.3" cy="100.0" r="2.3"/><circle cx="213.5" cy="136.0" r="2.3"/><circle cx="295.5" cy="102.1" r="2.3"/><circle cx="177.7" cy="168.2" r="2.3"/><circle cx="193.3" cy="144.6" r="2.3"/><circle cx="314.0" cy="34.4" r="2.3"/><circle cx="73.7" cy="220.4" r="2.3"/><circle cx="271.8" cy="69.6" r="2.3"/><circle cx="201.0" cy="120.1" r="2.3"/><circle cx="287.0" cy="77.1" r="2.3"/><circle cx="90.3" cy="221.2" r="2.3"/><circle cx="85.1" cy="202.1" r="2.3"/><circle cx="99.7" cy="216.0" r="2.3"/><circle cx="250.8" cy="128.4" r="2.3"/><circle cx="197.6" cy="139.6" r="2.3"/><circle cx="311.4" cy="28.2" r="2.3"/><circle cx="246.2" cy="105.9" r="2.3"/><circle cx="174.5" cy="156.0" r="2.3"/><circle cx="295.5" cy="64.9" r="2.3"/><circle cx="169.0" cy="134.6" r="2.3"/><circle cx="264.7" cy="102.2" r="2.3"/><circle cx="211.0" cy="110.4" r="2.3"/><circle cx="87.9" cy="189.3" r="2.3"/><circle cx="145.2" cy="148.7" r="2.3"/><circle cx="232.6" cy="120.0" r="2.3"/><circle cx="65.7" cy="217.5" r="2.3"/><circle cx="257.6" cy="115.2" r="2.3"/><circle cx="225.7" cy="141.0" r="2.3"/><circle cx="282.1" cy="72.3" r="2.3"/><circle cx="200.4" cy="128.8" r="2.3"/><circle cx="243.6" cy="117.8" r="2.3"/><circle cx="134.7" cy="170.4" r="2.3"/><circle cx="161.6" cy="181.0" r="2.3"/><circle cx="85.9" cy="222.4" r="2.3"/><circle cx="238.3" cy="109.8" r="2.3"/><circle cx="112.0" cy="189.2" r="2.3"/><circle cx="261.1" cy="87.4" r="2.3"/><circle cx="171.7" cy="141.3" r="2.3"/><circle cx="208.0" cy="136.2" r="2.3"/><circle cx="201.9" cy="136.8" r="2.3"/><circle cx="208.9" cy="106.6" r="2.3"/><circle cx="226.4" cy="105.6" r="2.3"/><circle cx="242.0" cy="124.5" r="2.3"/><circle cx="270.0" cy="87.2" r="2.3"/><circle cx="224.7" cy="118.2" r="2.3"/><circle cx="113.3" cy="169.8" r="2.3"/><circle cx="158.3" cy="152.4" r="2.3"/><circle cx="222.5" cy="105.0" r="2.3"/><circle cx="68.1" cy="213.8" r="2.3"/><circle cx="272.1" cy="110.5" r="2.3"/><circle cx="92.0" cy="209.0" r="2.3"/><circle cx="211.3" cy="127.3" r="2.3"/><circle cx="271.9" cy="76.8" r="2.3"/><circle cx="189.3" cy="116.7" r="2.3"/><circle cx="91.5" cy="197.6" r="2.3"/><circle cx="264.6" cy="68.1" r="2.3"/><circle cx="165.1" cy="165.7" r="2.3"/><circle cx="309.8" cy="24.1" r="2.3"/><circle cx="149.0" cy="185.5" r="2.3"/><circle cx="128.5" cy="157.3" r="2.3"/><circle cx="138.1" cy="151.5" r="2.3"/><circle cx="243.5" cy="111.1" r="2.3"/><circle cx="264.8" cy="91.0" r="2.3"/><circle cx="277.9" cy="72.7" r="2.3"/><circle cx="192.9" cy="156.5" r="2.3"/><circle cx="266.1" cy="116.5" r="2.3"/><circle cx="290.9" cy="46.0" r="2.3"/><circle cx="116.8" cy="177.6" r="2.3"/><circle cx="307.5" cy="48.8" r="2.3"/><circle cx="202.5" cy="144.2" r="2.3"/><circle cx="91.0" cy="171.3" r="2.3"/><circle cx="274.7" cy="79.9" r="2.3"/><circle cx="294.8" cy="57.3" r="2.3"/><circle cx="165.9" cy="169.2" r="2.3"/><circle cx="174.9" cy="164.8" r="2.3"/><circle cx="238.7" cy="124.4" r="2.3"/><circle cx="241.2" cy="131.0" r="2.3"/><circle cx="218.0" cy="148.6" r="2.3"/><circle cx="241.5" cy="78.5" r="2.3"/><circle cx="259.2" cy="104.0" r="2.3"/><circle cx="223.0" cy="93.7" r="2.3"/><circle cx="76.0" cy="216.9" r="2.3"/><circle cx="283.6" cy="45.2" r="2.3"/><circle cx="63.9" cy="222.5" r="2.3"/><circle cx="133.2" cy="180.5" r="2.3"/><circle cx="307.5" cy="65.1" r="2.3"/><circle cx="271.6" cy="79.8" r="2.3"/><circle cx="68.6" cy="219.2" r="2.3"/><circle cx="294.2" cy="43.8" r="2.3"/><circle cx="279.6" cy="59.8" r="2.3"/><circle cx="257.5" cy="80.5" r="2.3"/><circle cx="219.0" cy="144.8" r="2.3"/><circle cx="295.1" cy="76.3" r="2.3"/><circle cx="137.9" cy="179.9" r="2.3"/><circle cx="108.1" cy="167.5" r="2.3"/><circle cx="225.1" cy="102.2" r="2.3"/><circle cx="87.3" cy="204.7" r="2.3"/><circle cx="295.5" cy="68.5" r="2.3"/><circle cx="137.6" cy="163.4" r="2.3"/><circle cx="273.7" cy="67.3" r="2.3"/><circle cx="142.8" cy="171.1" r="2.3"/><circle cx="182.9" cy="163.2" r="2.3"/><circle cx="141.9" cy="174.4" r="2.3"/><circle cx="161.1" cy="157.2" r="2.3"/><circle cx="280.2" cy="53.9" r="2.3"/><circle cx="127.5" cy="166.7" r="2.3"/><circle cx="69.2" cy="193.7" r="2.3"/><circle cx="278.5" cy="81.0" r="2.3"/><circle cx="96.4" cy="194.2" r="2.3"/><circle cx="105.6" cy="170.5" r="2.3"/><circle cx="177.9" cy="140.5" r="2.3"/><circle cx="204.9" cy="136.7" r="2.3"/><circle cx="218.9" cy="122.5" r="2.3"/><circle cx="198.5" cy="160.2" r="2.3"/><circle cx="310.1" cy="50.7" r="2.3"/><circle cx="145.3" cy="186.1" r="2.3"/><circle cx="214.3" cy="153.0" r="2.3"/><circle cx="70.4" cy="210.7" r="2.3"/><circle cx="96.2" cy="212.9" r="2.3"/><circle cx="153.6" cy="161.5" r="2.3"/><circle cx="165.1" cy="176.1" r="2.3"/><circle cx="314.8" cy="26.6" r="2.3"/><circle cx="144.1" cy="163.1" r="2.3"/><circle cx="155.1" cy="137.1" r="2.3"/><circle cx="282.4" cy="89.8" r="2.3"/><circle cx="61.2" cy="239.5" r="2.3"/><circle cx="139.2" cy="183.4" r="2.3"/><circle cx="228.6" cy="113.4" r="2.3"/><circle cx="249.1" cy="113.9" r="2.3"/><circle cx="295.6" cy="94.4" r="2.3"/><circle cx="187.0" cy="127.1" r="2.3"/><circle cx="295.1" cy="35.4" r="2.3"/><circle cx="86.8" cy="225.6" r="2.3"/><circle cx="198.4" cy="146.4" r="2.3"/><circle cx="270.8" cy="73.4" r="2.3"/><circle cx="188.5" cy="131.3" r="2.3"/><circle cx="258.8" cy="62.5" r="2.3"/><circle cx="212.6" cy="149.1" r="2.3"/><circle cx="205.9" cy="147.6" r="2.3"/><circle cx="278.8" cy="86.4" r="2.3"/><circle cx="277.8" cy="92.7" r="2.3"/><circle cx="296.8" cy="86.2" r="2.3"/><circle cx="256.7" cy="93.9" r="2.3"/><circle cx="139.5" cy="191.6" r="2.3"/><circle cx="162.3" cy="168.5" r="2.3"/><circle cx="125.7" cy="195.0" r="2.3"/><circle cx="117.5" cy="159.7" r="2.3"/><circle cx="253.1" cy="79.6" r="2.3"/><circle cx="217.9" cy="113.1" r="2.3"/><circle cx="189.9" cy="146.7" r="2.3"/><circle cx="283.5" cy="61.9" r="2.3"/><circle cx="148.3" cy="174.9" r="2.3"/><circle cx="293.6" cy="89.6" r="2.3"/><circle cx="261.6" cy="69.0" r="2.3"/><circle cx="259.7" cy="121.7" r="2.3"/><circle cx="96.9" cy="169.7" r="2.3"/><circle cx="146.8" cy="166.4" r="2.3"/><circle cx="255.3" cy="96.8" r="2.3"/><circle cx="125.5" cy="162.7" r="2.3"/><circle cx="181.7" cy="140.4" r="2.3"/><circle cx="307.1" cy="30.3" r="2.3"/><circle cx="110.3" cy="192.4" r="2.3"/><circle cx="256.3" cy="104.6" r="2.3"/><circle cx="164.4" cy="150.8" r="2.3"/><circle cx="299.0" cy="101.9" r="2.3"/><circle cx="298.4" cy="70.0" r="2.3"/><circle cx="139.7" cy="176.6" r="2.3"/><circle cx="73.2" cy="234.5" r="2.3"/><circle cx="190.2" cy="124.7" r="2.3"/><circle cx="301.2" cy="51.2" r="2.3"/><circle cx="105.7" cy="184.9" r="2.3"/><circle cx="69.7" cy="200.6" r="2.3"/><circle cx="225.3" cy="135.3" r="2.3"/><circle cx="70.5" cy="222.2" r="2.3"/><circle cx="137.4" cy="156.9" r="2.3"/><circle cx="63.4" cy="243.0" r="2.3"/><circle cx="255.2" cy="110.6" r="2.3"/><circle cx="157.0" cy="147.6" r="2.3"/><circle cx="95.1" cy="172.4" r="2.3"/><circle cx="264.4" cy="71.3" r="2.3"/><circle cx="273.5" cy="63.5" r="2.3"/><circle cx="227.4" cy="138.6" r="2.3"/><circle cx="257.8" cy="86.1" r="2.3"/><circle cx="73.3" cy="223.5" r="2.3"/><circle cx="194.1" cy="132.1" r="2.3"/><circle cx="254.9" cy="107.2" r="2.3"/><circle cx="250.6" cy="81.3" r="2.3"/><circle cx="198.5" cy="106.8" r="2.3"/><circle cx="162.4" cy="136.3" r="2.3"/><circle cx="271.2" cy="100.2" r="2.3"/><circle cx="301.3" cy="31.4" r="2.3"/><circle cx="226.6" cy="130.1" r="2.3"/><circle cx="66.7" cy="243.4" r="2.3"/><circle cx="210.4" cy="133.6" r="2.3"/><circle cx="94.9" cy="182.8" r="2.3"/><circle cx="313.1" cy="75.8" r="2.3"/><circle cx="245.0" cy="72.3" r="2.3"/><circle cx="176.9" cy="161.6" r="2.3"/><circle cx="92.6" cy="200.7" r="2.3"/><circle cx="88.2" cy="214.2" r="2.3"/><circle cx="113.0" cy="183.4" r="2.3"/><circle cx="311.1" cy="62.3" r="2.3"/><circle cx="152.3" cy="155.4" r="2.3"/><circle cx="222.7" cy="90.8" r="2.3"/><circle cx="201.3" cy="141.4" r="2.3"/><circle cx="295.1" cy="49.7" r="2.3"/><circle cx="176.8" cy="124.8" r="2.3"/><circle cx="109.3" cy="178.0" r="2.3"/><circle cx="245.6" cy="87.9" r="2.3"/><circle cx="214.5" cy="94.8" r="2.3"/><circle cx="61.3" cy="223.7" r="2.3"/><circle cx="89.1" cy="195.6" r="2.3"/><circle cx="207.6" cy="152.7" r="2.3"/><circle cx="289.6" cy="94.1" r="2.3"/><circle cx="100.2" cy="209.1" r="2.3"/><circle cx="254.5" cy="86.9" r="2.3"/><circle cx="232.9" cy="109.2" r="2.3"/><circle cx="150.3" cy="178.5" r="2.3"/><circle cx="160.5" cy="132.7" r="2.3"/><circle cx="102.0" cy="198.7" r="2.3"/><circle cx="220.9" cy="138.9" r="2.3"/><circle cx="239.8" cy="86.3" r="2.3"/><circle cx="308.3" cy="27.5" r="2.3"/><circle cx="298.5" cy="48.8" r="2.3"/><circle cx="156.8" cy="172.1" r="2.3"/><circle cx="204.6" cy="114.9" r="2.3"/><circle cx="69.7" cy="216.3" r="2.3"/><circle cx="167.4" cy="152.4" r="2.3"/><circle cx="87.4" cy="175.4" r="2.3"/><circle cx="134.8" cy="146.3" r="2.3"/><circle cx="204.4" cy="101.5" r="2.3"/><circle cx="119.4" cy="164.2" r="2.3"/><circle cx="161.7" cy="165.5" r="2.3"/><circle cx="138.6" cy="172.8" r="2.3"/><circle cx="206.5" cy="128.3" r="2.3"/><circle cx="103.0" cy="179.2" r="2.3"/><circle cx="272.8" cy="90.2" r="2.3"/><circle cx="290.3" cy="78.0" r="2.3"/><circle cx="100.1" cy="195.0" r="2.3"/><circle cx="231.3" cy="92.4" r="2.3"/><circle cx="246.2" cy="99.7" r="2.3"/><circle cx="305.9" cy="43.5" r="2.3"/><circle cx="113.7" cy="162.4" r="2.3"/><circle cx="141.2" cy="151.0" r="2.3"/><circle cx="131.6" cy="151.5" r="2.3"/><circle cx="139.0" cy="143.4" r="2.3"/><circle cx="258.5" cy="111.1" r="2.3"/><circle cx="223.5" cy="97.0" r="2.3"/><circle cx="84.6" cy="213.2" r="2.3"/><circle cx="103.4" cy="194.7" r="2.3"/><circle cx="224.0" cy="138.0" r="2.3"/><circle cx="247.7" cy="124.1" r="2.3"/><circle cx="305.2" cy="75.3" r="2.3"/><circle cx="206.1" cy="107.4" r="2.3"/><circle cx="93.0" cy="219.0" r="2.3"/><circle cx="239.9" cy="116.9" r="2.3"/><circle cx="314.9" cy="83.3" r="2.3"/><circle cx="182.6" cy="152.8" r="2.3"/><circle cx="124.8" cy="184.9" r="2.3"/><circle cx="166.1" cy="137.9" r="2.3"/><circle cx="205.6" cy="144.1" r="2.3"/><circle cx="67.3" cy="234.8" r="2.3"/><circle cx="106.1" cy="209.5" r="2.3"/><circle cx="232.5" cy="139.4" r="2.3"/><circle cx="248.9" cy="93.3" r="2.3"/><circle cx="61.2" cy="203.3" r="2.3"/><circle cx="299.3" cy="34.2" r="2.3"/><circle cx="168.0" cy="130.2" r="2.3"/><circle cx="215.1" cy="143.1" r="2.3"/><circle cx="117.2" cy="173.4" r="2.3"/><circle cx="211.0" cy="115.8" r="2.3"/><circle cx="146.8" cy="183.3" r="2.3"/><circle cx="190.3" cy="158.7" r="2.3"/><circle cx="77.7" cy="198.0" r="2.3"/><circle cx="307.6" cy="99.2" r="2.3"/><circle cx="189.8" cy="152.6" r="2.3"/><circle cx="128.7" cy="151.1" r="2.3"/><circle cx="89.9" cy="206.3" r="2.3"/><circle cx="117.7" cy="197.8" r="2.3"/><circle cx="102.3" cy="219.0" r="2.3"/><circle cx="103.2" cy="187.1" r="2.3"/><circle cx="286.3" cy="52.5" r="2.3"/><circle cx="251.5" cy="70.1" r="2.3"/><circle cx="142.1" cy="148.1" r="2.3"/><circle cx="178.4" cy="129.4" r="2.3"/><circle cx="177.0" cy="157.6" r="2.3"/><circle cx="261.6" cy="72.5" r="2.3"/><circle cx="202.8" cy="149.6" r="2.3"/><circle cx="91.7" cy="185.3" r="2.3"/><circle cx="244.5" cy="78.5" r="2.3"/><circle cx="202.5" cy="156.0" r="2.3"/><circle cx="132.0" cy="162.6" r="2.3"/><circle cx="194.7" cy="150.6" r="2.3"/><circle cx="242.9" cy="84.7" r="2.3"/><circle cx="308.4" cy="89.5" r="2.3"/><circle cx="133.0" cy="188.0" r="2.3"/><circle cx="202.9" cy="109.3" r="2.3"/><circle cx="73.0" cy="191.9" r="2.3"/><circle cx="88.8" cy="179.9" r="2.3"/><circle cx="168.0" cy="126.4" r="2.3"/><circle cx="261.0" cy="79.9" r="2.3"/><circle cx="311.5" cy="86.3" r="2.3"/><circle cx="295.5" cy="71.7" r="2.3"/><circle cx="67.3" cy="222.5" r="2.3"/><circle cx="239.0" cy="89.5" r="2.3"/><circle cx="181.6" cy="122.8" r="2.3"/><circle cx="197.3" cy="128.7" r="2.3"/><circle cx="311.0" cy="43.6" r="2.3"/><circle cx="267.5" cy="109.2" r="2.3"/><circle cx="144.1" cy="152.2" r="2.3"/><circle cx="299.0" cy="94.5" r="2.3"/><circle cx="305.0" cy="91.2" r="2.3"/><circle cx="255.3" cy="82.9" r="2.3"/><circle cx="304.6" cy="51.0" r="2.3"/><circle cx="97.2" cy="179.0" r="2.3"/><circle cx="301.7" cy="80.8" r="2.3"/><circle cx="192.6" cy="116.7" r="2.3"/><circle cx="297.3" cy="80.4" r="2.3"/><circle cx="98.5" cy="187.7" r="2.3"/><circle cx="61.2" cy="235.3" r="2.3"/><circle cx="94.8" cy="191.0" r="2.3"/><circle cx="150.4" cy="182.0" r="2.3"/><circle cx="87.0" cy="193.2" r="2.3"/><circle cx="144.8" cy="178.0" r="2.3"/><circle cx="157.1" cy="181.7" r="2.3"/><circle cx="310.0" cy="40.2" r="2.3"/><circle cx="168.5" cy="149.5" r="2.3"/><circle cx="271.7" cy="52.1" r="2.3"/><circle cx="142.1" cy="142.2" r="2.3"/><circle cx="270.9" cy="83.5" r="2.3"/><circle cx="314.0" cy="72.8" r="2.3"/><circle cx="154.3" cy="149.4" r="2.3"/><circle cx="132.6" cy="156.7" r="2.3"/><circle cx="207.4" cy="120.3" r="2.3"/><circle cx="99.1" cy="197.9" r="2.3"/><circle cx="305.4" cy="61.0" r="2.3"/><circle cx="186.3" cy="144.8" r="2.3"/><circle cx="230.9" cy="127.5" r="2.3"/><circle cx="254.3" cy="114.7" r="2.3"/><circle cx="132.8" cy="196.8" r="2.3"/><circle cx="219.8" cy="135.5" r="2.3"/><circle cx="201.8" cy="131.9" r="2.3"/><circle cx="304.0" cy="47.4" r="2.3"/><circle cx="276.0" cy="88.8" r="2.3"/><circle cx="72.5" cy="229.9" r="2.3"/><circle cx="84.2" cy="205.4" r="2.3"/><circle cx="149.8" cy="153.6" r="2.3"/><circle cx="112.3" cy="167.0" r="2.3"/><circle cx="195.7" cy="154.8" r="2.3"/><circle cx="279.7" cy="44.6" r="2.3"/><circle cx="303.0" cy="101.8" r="2.3"/><circle cx="314.6" cy="51.3" r="2.3"/><circle cx="278.8" cy="50.6" r="2.3"/><circle cx="216.9" cy="97.1" r="2.3"/><circle cx="205.5" cy="154.9" r="2.3"/><circle cx="116.6" cy="183.5" r="2.3"/><circle cx="251.2" cy="119.3" r="2.3"/><circle cx="314.9" cy="94.4" r="2.3"/><circle cx="314.7" cy="79.2" r="2.3"/><circle cx="255.4" cy="68.9" r="2.3"/><circle cx="270.8" cy="65.9" r="2.3"/><circle cx="302.5" cy="93.3" r="2.3"/><circle cx="269.2" cy="59.1" r="2.3"/><circle cx="307.2" cy="93.0" r="2.3"/><circle cx="82.5" cy="215.6" r="2.3"/><circle cx="72.4" cy="195.1" r="2.3"/><circle cx="93.0" cy="227.0" r="2.3"/><circle cx="156.3" cy="160.4" r="2.3"/><circle cx="66.9" cy="196.0" r="2.3"/><circle cx="72.7" cy="200.1" r="2.3"/><circle cx="69.5" cy="228.5" r="2.3"/><circle cx="288.0" cy="45.0" r="2.3"/><circle cx="130.2" cy="182.0" r="2.3"/><circle cx="259.0" cy="70.6" r="2.3"/><circle cx="300.0" cy="63.9" r="2.3"/><circle cx="174.4" cy="123.2" r="2.3"/><circle cx="98.2" cy="172.7" r="2.3"/><circle cx="236.6" cy="133.4" r="2.3"/><circle cx="280.8" cy="94.2" r="2.3"/><circle cx="199.6" cy="109.5" r="2.3"/><circle cx="308.6" cy="69.4" r="2.3"/><circle cx="298.3" cy="66.6" r="2.3"/><circle cx="221.7" cy="123.6" r="2.3"/><circle cx="279.1" cy="65.5" r="2.3"/><circle cx="165.9" cy="144.9" r="2.3"/><circle cx="76.1" cy="236.9" r="2.3"/><circle cx="290.5" cy="69.4" r="2.3"/><circle cx="75.6" cy="208.0" r="2.3"/><circle cx="242.6" cy="100.9" r="2.3"/><circle cx="121.7" cy="200.6" r="2.3"/><circle cx="211.0" cy="137.5" r="2.3"/><circle cx="223.0" cy="130.4" r="2.3"/><circle cx="202.9" cy="125.1" r="2.3"/><circle cx="209.7" cy="118.4" r="2.3"/><circle cx="189.3" cy="161.6" r="2.3"/><circle cx="112.6" cy="203.6" r="2.3"/><circle cx="66.7" cy="202.3" r="2.3"/><circle cx="186.8" cy="118.4" r="2.3"/><circle cx="285.5" cy="88.5" r="2.3"/><circle cx="289.6" cy="97.7" r="2.3"/><circle cx="156.6" cy="139.6" r="2.3"/><circle cx="292.9" cy="37.7" r="2.3"/><circle cx="221.9" cy="102.1" r="2.3"/><circle cx="209.6" cy="102.8" r="2.3"/><circle cx="167.8" cy="162.9" r="2.3"/><circle cx="241.3" cy="104.0" r="2.3"/><circle cx="100.3" cy="168.0" r="2.3"/><circle cx="187.6" cy="149.4" r="2.3"/><circle cx="194.9" cy="147.3" r="2.3"/><circle cx="246.3" cy="112.7" r="2.3"/><circle cx="301.8" cy="76.4" r="2.3"/><circle cx="251.1" cy="91.0" r="2.3"/><circle cx="123.9" cy="197.5" r="2.3"/><circle cx="268.4" cy="80.6" r="2.3"/><circle cx="82.3" cy="202.9" r="2.3"/><circle cx="314.6" cy="91.1" r="2.3"/><circle cx="235.7" cy="114.5" r="2.3"/><circle cx="314.5" cy="45.7" r="2.3"/><circle cx="284.4" cy="83.8" r="2.3"/><circle cx="274.2" cy="107.7" r="2.3"/><circle cx="264.2" cy="84.8" r="2.3"/><circle cx="283.1" cy="103.1" r="2.3"/><circle cx="199.0" cy="136.7" r="2.3"/><circle cx="246.1" cy="81.6" r="2.3"/><circle cx="290.5" cy="83.9" r="2.3"/><circle cx="67.8" cy="240.1" r="2.3"/><circle cx="61.7" cy="212.1" r="2.3"/><circle cx="157.8" cy="144.1" r="2.3"/><circle cx="123.0" cy="155.1" r="2.3"/><circle cx="124.2" cy="166.6" r="2.3"/><circle cx="201.3" cy="146.9" r="2.3"/><circle cx="279.1" cy="104.3" r="2.3"/><circle cx="233.2" cy="97.9" r="2.3"/><circle cx="79.4" cy="233.8" r="2.3"/><circle cx="104.9" cy="204.1" r="2.3"/><circle cx="275.5" cy="60.6" r="2.3"/><circle cx="274.8" cy="70.5" r="2.3"/><circle cx="180.7" cy="165.6" r="2.3"/><circle cx="114.7" cy="175.3" r="2.3"/><circle cx="104.2" cy="173.5" r="2.3"/><circle cx="242.7" cy="74.3" r="2.3"/><circle cx="214.2" cy="102.1" r="2.3"/><circle cx="229.2" cy="98.4" r="2.3"/><circle cx="307.3" cy="81.9" r="2.3"/><circle cx="312.7" cy="24.5" r="2.3"/><circle cx="87.7" cy="230.1" r="2.3"/><circle cx="258.7" cy="67.6" r="2.3"/><circle cx="145.1" cy="142.3" r="2.3"/><circle cx="252.5" cy="83.8" r="2.3"/><circle cx="304.0" cy="29.6" r="2.3"/><circle cx="131.7" cy="148.5" r="2.3"/><circle cx="276.6" cy="102.5" r="2.3"/><circle cx="312.6" cy="37.5" r="2.3"/><circle cx="171.6" cy="150.3" r="2.3"/><circle cx="198.3" cy="112.6" r="2.3"/><circle cx="208.5" cy="146.3" r="2.3"/><circle cx="65.5" cy="228.5" r="2.3"/><circle cx="120.0" cy="180.5" r="2.3"/><circle cx="134.8" cy="164.4" r="2.3"/><circle cx="110.9" cy="197.9" r="2.3"/><circle cx="300.3" cy="54.3" r="2.3"/><circle cx="83.2" cy="194.2" r="2.3"/><circle cx="228.1" cy="120.8" r="2.3"/><circle cx="249.2" cy="131.8" r="2.3"/><circle cx="168.1" cy="177.3" r="2.3"/><circle cx="252.9" cy="101.0" r="2.3"/><circle cx="238.9" cy="95.7" r="2.3"/><circle cx="296.4" cy="99.1" r="2.3"/><circle cx="112.8" cy="186.3" r="2.3"/><circle cx="93.5" cy="175.4" r="2.3"/><circle cx="280.3" cy="78.7" r="2.3"/><circle cx="194.8" cy="119.7" r="2.3"/><circle cx="283.4" cy="53.4" r="2.3"/><circle cx="253.1" cy="121.7" r="2.3"/><circle cx="217.4" cy="94.1" r="2.3"/><circle cx="286.8" cy="81.8" r="2.3"/><circle cx="105.1" cy="201.0" r="2.3"/><circle cx="262.6" cy="120.6" r="2.3"/><circle cx="163.1" cy="144.0" r="2.3"/><circle cx="282.5" cy="99.8" r="2.3"/><circle cx="217.6" cy="125.5" r="2.3"/><circle cx="254.5" cy="74.7" r="2.3"/><circle cx="135.3" cy="185.8" r="2.3"/><circle cx="117.8" cy="188.6" r="2.3"/><circle cx="136.5" cy="154.0" r="2.3"/><circle cx="249.4" cy="104.9" r="2.3"/><circle cx="216.5" cy="115.7" r="2.3"/><circle cx="267.2" cy="74.2" r="2.3"/><circle cx="120.2" cy="161.2" r="2.3"/><circle cx="127.7" cy="175.4" r="2.3"/><circle cx="155.7" cy="153.8" r="2.3"/><circle cx="172.4" cy="144.3" r="2.3"/><circle cx="292.3" cy="58.9" r="2.3"/><circle cx="109.6" cy="203.9" r="2.3"/><circle cx="221.9" cy="144.9" r="2.3"/><circle cx="184.0" cy="160.5" r="2.3"/><circle cx="310.8" cy="71.5" r="2.3"/><circle cx="303.5" cy="70.7" r="2.3"/><circle cx="176.5" cy="137.6" r="2.3"/><circle cx="236.9" cy="126.8" r="2.3"/><circle cx="202.3" cy="116.7" r="2.3"/><circle cx="166.1" cy="134.8" r="2.3"/><circle cx="305.9" cy="101.9" r="2.3"/><circle cx="69.3" cy="207.9" r="2.3"/><circle cx="258.5" cy="118.2" r="2.3"/><circle cx="285.7" cy="74.1" r="2.3"/><circle cx="297.0" cy="39.7" r="2.3"/><circle cx="300.3" cy="40.0" r="2.3"/><circle cx="163.1" cy="178.3" r="2.3"/><circle cx="190.5" cy="138.4" r="2.3"/><circle cx="244.9" cy="96.5" r="2.3"/><circle cx="305.0" cy="85.6" r="2.3"/><circle cx="94.3" cy="179.7" r="2.3"/><circle cx="216.7" cy="135.7" r="2.3"/><circle cx="102.7" cy="215.1" r="2.3"/><circle cx="235.5" cy="107.7" r="2.3"/><circle cx="211.8" cy="107.6" r="2.3"/><circle cx="84.3" cy="227.1" r="2.3"/><circle cx="190.2" cy="127.7" r="2.3"/><circle cx="160.1" cy="178.2" r="2.3"/><circle cx="82.4" cy="209.4" r="2.3"/><circle cx="262.4" cy="103.9" r="2.3"/><circle cx="244.0" cy="107.9" r="2.3"/><circle cx="229.1" cy="106.6" r="2.3"/><circle cx="297.1" cy="55.2" r="2.3"/><circle cx="255.4" cy="123.8" r="2.3"/><circle cx="201.4" cy="152.8" r="2.3"/><circle cx="203.9" cy="122.3" r="2.3"/><circle cx="97.0" cy="224.3" r="2.3"/><circle cx="258.0" cy="99.2" r="2.3"/><circle cx="315.0" cy="22.7" r="2.3"/><circle cx="77.7" cy="219.6" r="2.3"/><circle cx="132.6" cy="176.3" r="2.3"/><circle cx="272.8" cy="105.1" r="2.3"/><circle cx="82.4" cy="181.7" r="2.3"/><circle cx="217.5" cy="155.5" r="2.3"/><circle cx="259.1" cy="126.5" r="2.3"/><circle cx="310.5" cy="98.6" r="2.3"/><circle cx="181.7" cy="166.7" r="2.3"/><circle cx="241.0" cy="138.0" r="2.3"/><circle cx="102.3" cy="221.3" r="2.3"/><circle cx="280.1" cy="106.3" r="2.3"/><circle cx="139.0" cy="194.5" r="2.3"/><circle cx="143.7" cy="192.1" r="2.3"/><circle cx="81.3" cy="234.1" r="2.3"/><circle cx="188.3" cy="164.3" r="2.3"/><circle cx="165.3" cy="182.3" r="2.3"/><circle cx="154.7" cy="186.2" r="2.3"/><circle cx="306.0" cy="105.0" r="2.3"/><circle cx="86.3" cy="232.8" r="2.3"/><circle cx="113.4" cy="212.0" r="2.3"/><circle cx="124.0" cy="204.8" r="2.3"/><circle cx="273.1" cy="113.0" r="2.3"/><circle cx="315.6" cy="96.0" r="2.3"/><circle cx="300.2" cy="105.2" r="2.3"/><circle cx="132.0" cy="199.1" r="2.3"/><circle cx="286.6" cy="105.9" r="2.3"/><circle cx="63.4" cy="246.9" r="2.3"/><circle cx="68.2" cy="244.9" r="2.3"/><circle cx="108.9" cy="216.2" r="2.3"/><circle cx="172.8" cy="172.6" r="2.3"/><circle cx="208.4" cy="157.8" r="2.3"/><circle cx="226.9" cy="147.6" r="2.3"/><circle cx="248.3" cy="134.1" r="2.3"/><circle cx="196.8" cy="165.5" r="2.3"/><circle cx="98.3" cy="226.2" r="2.3"/><circle cx="73.1" cy="242.9" r="2.3"/><circle cx="222.0" cy="151.4" r="2.3"/><circle cx="292.8" cy="103.6" r="2.3"/><circle cx="177.6" cy="170.0" r="2.3"/><circle cx="264.9" cy="121.7" r="2.3"/><circle cx="232.9" cy="141.5" r="2.3"/><circle cx="93.8" cy="228.7" r="2.3"/><circle cx="200.7" cy="159.5" r="2.3"/><circle cx="76.1" cy="238.4" r="2.3"/><circle cx="318.6" cy="12.0" r="2.3"/><circle cx="318.6" cy="15.3" r="2.3"/><circle cx="319.3" cy="18.6" r="2.3"/><circle cx="319.5" cy="22.0" r="2.3"/><circle cx="319.3" cy="25.5" r="2.3"/><circle cx="319.6" cy="28.5" r="2.3"/><circle cx="319.0" cy="31.0" r="2.3"/><circle cx="319.0" cy="34.5" r="2.3"/><circle cx="319.7" cy="37.7" r="2.3"/><circle cx="319.2" cy="40.7" r="2.3"/><circle cx="318.6" cy="43.3" r="2.3"/><circle cx="318.9" cy="46.2" r="2.3"/><circle cx="318.5" cy="48.4" r="2.3"/><circle cx="318.8" cy="51.9" r="2.3"/><circle cx="319.7" cy="55.0" r="2.3"/><circle cx="318.9" cy="57.9" r="2.3"/><circle cx="319.7" cy="61.5" r="2.3"/><circle cx="319.4" cy="64.8" r="2.3"/><circle cx="319.1" cy="67.2" r="2.3"/><circle cx="319.5" cy="70.1" r="2.3"/><circle cx="318.9" cy="73.0" r="2.3"/><circle cx="318.4" cy="75.8" r="2.3"/><circle cx="318.4" cy="79.1" r="2.3"/><circle cx="319.0" cy="82.5" r="2.3"/><circle cx="318.5" cy="85.4" r="2.3"/><circle cx="319.8" cy="87.7" r="2.3"/><circle cx="318.2" cy="99.2" r="2.3"/><circle cx="312.2" cy="100.7" r="2.3"/><circle cx="298.2" cy="112.3" r="2.3"/></g>
<path d="M319.0,12.0V274.7" stroke="#8a8a8a" stroke-width="0.7" fill="none"/>
<path d="M319.0,274.7H55.0V12.0H319.0" stroke="#000" stroke-width="1" fill="none"/>
<path d="M52.3,274.7H55.0M55.0,274.7V277.2M52.3,222.2H55.0M107.8,274.7V277.2M52.3,169.6H55.0M160.6,274.7V277.2M52.3,117.1H55.0M213.4,274.7V277.2M52.3,64.5H55.0M266.2,274.7V277.2M52.3,12.0H55.0M319.0,274.7V277.2" stroke="#000" stroke-width="1" fill="none"/>
<text class="t" x="47.6" y="278.1" text-anchor="end">0.0</text>
<text class="t" x="55.0" y="292" text-anchor="middle">0</text>
<text class="t" x="47.6" y="225.6" text-anchor="end">0.2</text>
<text class="t" x="107.8" y="292" text-anchor="middle">20</text>
<text class="t" x="47.6" y="173.0" text-anchor="end">0.4</text>
<text class="t" x="160.6" y="292" text-anchor="middle">40</text>
<text class="t" x="47.6" y="120.5" text-anchor="end">0.6</text>
<text class="t" x="213.4" y="292" text-anchor="middle">60</text>
<text class="t" x="47.6" y="67.9" text-anchor="end">0.8</text>
<text class="t" x="266.2" y="292" text-anchor="middle">80</text>
<text class="t" x="47.6" y="15.4" text-anchor="end">1.0</text>
<text class="t" x="319.0" y="292" text-anchor="middle">100</text>
<text class="at" x="187.4" y="310.2" text-anchor="middle">PONDR VSL2 (%)</text>
<text class="at" transform="translate(25.2,143.7) rotate(-90)" text-anchor="middle">PONDR VSL2 score</text>
<text class="pl" x="6.8" y="23.8">A</text>
<text class="b" x="77.05" y="32" fill="#000" text-anchor="middle">5.1%</text>
<text class="b" x="78.95" y="49.4" fill="#bdb81e" text-anchor="middle">(3.9%)</text>
<text class="b" x="162.0" y="30.5" fill="#ffff1a" text-anchor="middle">(40.1%)</text>
<text class="b" x="293.9" y="138.1" fill="#000" text-anchor="middle">39.8%</text>
<text class="b" x="104.4" y="152.8" fill="#ffff2a" text-anchor="middle" style="font-size:13.3px">(33.9%)</text>
<text class="b" x="129.3" y="231.1" fill="#000" text-anchor="middle">33.7%</text>
<text class="b" x="294.85" y="209.5" fill="#ffff00" text-anchor="middle">(22.0%)</text>
<text class="b" x="296.35" y="228.1" fill="#000" text-anchor="middle">21.0%</text>
<text class="b" x="77.1" y="269" text-anchor="middle"><tspan fill="#fff">0.4</tspan><tspan fill="#000">%</tspan></text>
<text class="b" x="111.6" y="269" fill="#bdb81e" text-anchor="middle">(0.1%)</text>
<rect x="55.6" y="323.3" width="263.1" height="184.1" fill="none" stroke="#777" stroke-width="1"/>
<path d="M55.6,422.4H318.7M213.5,323.3V507.4" stroke="#666" stroke-width="1" fill="none"/>
<path d="M100.0,385.0 L105.3,383.9 L110.5,381.8 L115.8,379.7 L121.0,377.5 L126.3,375.3 L131.5,376.7 L136.8,378.6 L142.1,376.7 L147.3,374.3 L152.6,380.2 L157.8,384.8 L163.1,387.1 L168.3,389.5 L173.6,392.0 L178.8,394.3 L184.1,396.2 L189.4,398.1 L194.6,400.0 L199.9,402.0 L205.1,404.0 L210.4,404.8 L215.6,405.6 L220.9,405.5 L226.2,404.6 L231.4,403.6 L236.7,403.3 L241.9,404.2 L247.2,405.1 L252.4,406.1 L257.7,406.9 L262.9,407.8 L268.2,407.3 L273.5,406.4 L278.7,406.7 L284.0,408.0 L289.2,409.5 L294.5,411.6 L299.7,415.6 L305.0,425.0 L305.0,472.5 L299.7,475.0 L294.5,474.5 L289.2,474.1 L284.0,473.3 L278.7,472.5 L273.5,471.8 L268.2,471.4 L262.9,470.8 L257.7,469.9 L252.4,469.1 L247.2,467.4 L241.9,465.6 L236.7,464.7 L231.4,464.1 L226.2,462.4 L220.9,460.2 L215.6,459.6 L210.4,460.9 L205.1,458.8 L199.9,456.4 L194.6,453.4 L189.4,453.4 L184.1,453.8 L178.8,452.6 L173.6,449.3 L168.3,447.7 L163.1,449.8 L157.8,450.6 L152.6,449.5 L147.3,448.5 L142.1,447.3 L136.8,446.2 L131.5,445.0 L126.3,443.8 L121.0,442.5 L115.8,441.2 L110.5,440.1 L105.3,439.1 L100.0,438.0Z" fill="#3a3a2c"/>
<g fill="#c8c8c8" stroke="#666" stroke-width="0.9"><circle cx="285.6" cy="412.7" r="3.1"/><circle cx="152.5" cy="411.9" r="3.1"/><circle cx="96.0" cy="397.4" r="3.1"/><circle cx="195.6" cy="444.8" r="3.1"/><circle cx="195.0" cy="408.4" r="3.1"/><circle cx="170.2" cy="386.6" r="3.1"/><circle cx="232.5" cy="437.8" r="3.1"/><circle cx="216.0" cy="447.3" r="3.1"/><circle cx="125.9" cy="437.7" r="3.1"/><circle cx="301.8" cy="430.0" r="3.1"/><circle cx="298.2" cy="463.9" r="3.1"/><circle cx="170.6" cy="402.6" r="3.1"/><circle cx="111.9" cy="388.5" r="3.1"/><circle cx="170.2" cy="443.8" r="3.1"/><circle cx="277.9" cy="416.5" r="3.1"/><circle cx="187.6" cy="427.4" r="3.1"/><circle cx="225.7" cy="433.4" r="3.1"/><circle cx="250.0" cy="406.7" r="3.1"/><circle cx="211.1" cy="439.8" r="3.1"/><circle cx="145.2" cy="396.1" r="3.1"/><circle cx="214.2" cy="433.7" r="3.1"/><circle cx="245.1" cy="449.1" r="3.1"/><circle cx="89.4" cy="379.7" r="3.1"/><circle cx="269.9" cy="433.4" r="3.1"/><circle cx="196.0" cy="431.1" r="3.1"/><circle cx="181.4" cy="458.9" r="3.1"/><circle cx="181.2" cy="399.8" r="3.1"/><circle cx="106.9" cy="439.8" r="3.1"/><circle cx="62.4" cy="376.3" r="3.1"/><circle cx="238.2" cy="441.9" r="3.1"/><circle cx="197.4" cy="414.5" r="3.1"/><circle cx="92.4" cy="411.9" r="3.1"/><circle cx="223.4" cy="462.9" r="3.1"/><circle cx="230.8" cy="465.4" r="3.1"/><circle cx="225.3" cy="427.0" r="3.1"/><circle cx="218.8" cy="456.1" r="3.1"/><circle cx="122.7" cy="446.6" r="3.1"/><circle cx="222.5" cy="440.1" r="3.1"/><circle cx="258.7" cy="429.2" r="3.1"/><circle cx="260.4" cy="436.3" r="3.1"/><circle cx="228.8" cy="407.0" r="3.1"/><circle cx="271.7" cy="447.6" r="3.1"/><circle cx="192.6" cy="439.4" r="3.1"/><circle cx="283.4" cy="456.7" r="3.1"/><circle cx="135.5" cy="384.3" r="3.1"/><circle cx="246.1" cy="463.4" r="3.1"/><circle cx="170.3" cy="413.7" r="3.1"/><circle cx="256.5" cy="413.1" r="3.1"/><circle cx="191.2" cy="420.3" r="3.1"/><circle cx="61.2" cy="400.0" r="3.1"/><circle cx="63.8" cy="406.4" r="3.1"/><circle cx="231.3" cy="421.8" r="3.1"/><circle cx="160.0" cy="435.5" r="3.1"/><circle cx="88.5" cy="408.6" r="3.1"/><circle cx="67.0" cy="374.4" r="3.1"/><circle cx="209.2" cy="454.8" r="3.1"/><circle cx="173.2" cy="448.2" r="3.1"/><circle cx="238.1" cy="409.9" r="3.1"/><circle cx="244.2" cy="440.7" r="3.1"/><circle cx="123.5" cy="376.4" r="3.1"/><circle cx="64.2" cy="380.9" r="3.1"/><circle cx="239.8" cy="415.1" r="3.1"/><circle cx="139.7" cy="439.7" r="3.1"/><circle cx="102.8" cy="388.7" r="3.1"/><circle cx="264.1" cy="448.4" r="3.1"/><circle cx="115.1" cy="426.3" r="3.1"/><circle cx="259.2" cy="455.9" r="3.1"/><circle cx="112.9" cy="399.9" r="3.1"/><circle cx="63.3" cy="416.2" r="3.1"/><circle cx="251.2" cy="431.3" r="3.1"/><circle cx="226.0" cy="453.3" r="3.1"/><circle cx="63.3" cy="393.6" r="3.1"/><circle cx="169.1" cy="427.0" r="3.1"/><circle cx="151.1" cy="407.2" r="3.1"/><circle cx="288.6" cy="474.3" r="3.1"/><circle cx="133.7" cy="395.3" r="3.1"/><circle cx="85.3" cy="426.9" r="3.1"/><circle cx="265.4" cy="410.3" r="3.1"/><circle cx="186.9" cy="414.4" r="3.1"/><circle cx="83.0" cy="415.9" r="3.1"/><circle cx="290.3" cy="460.6" r="3.1"/><circle cx="145.5" cy="445.2" r="3.1"/><circle cx="217.5" cy="426.1" r="3.1"/><circle cx="100.4" cy="442.3" r="3.1"/><circle cx="239.3" cy="436.9" r="3.1"/><circle cx="138.8" cy="432.7" r="3.1"/><circle cx="165.8" cy="416.7" r="3.1"/><circle cx="261.1" cy="423.2" r="3.1"/><circle cx="269.1" cy="473.9" r="3.1"/><circle cx="92.0" cy="435.7" r="3.1"/><circle cx="221.5" cy="405.0" r="3.1"/><circle cx="203.9" cy="451.3" r="3.1"/><circle cx="184.7" cy="451.4" r="3.1"/><circle cx="158.7" cy="385.8" r="3.1"/><circle cx="107.3" cy="373.8" r="3.1"/><circle cx="125.6" cy="405.7" r="3.1"/><circle cx="112.7" cy="437.6" r="3.1"/><circle cx="182.4" cy="427.1" r="3.1"/><circle cx="172.6" cy="422.8" r="3.1"/><circle cx="208.8" cy="460.5" r="3.1"/><circle cx="85.9" cy="372.2" r="3.1"/><circle cx="234.7" cy="430.5" r="3.1"/><circle cx="255.8" cy="467.1" r="3.1"/><circle cx="268.6" cy="451.6" r="3.1"/><circle cx="97.5" cy="433.4" r="3.1"/><circle cx="197.2" cy="423.1" r="3.1"/><circle cx="202.2" cy="461.0" r="3.1"/><circle cx="137.1" cy="389.0" r="3.1"/><circle cx="254.2" cy="417.5" r="3.1"/><circle cx="242.7" cy="400.6" r="3.1"/><circle cx="172.8" cy="439.5" r="3.1"/><circle cx="128.8" cy="388.6" r="3.1"/><circle cx="277.3" cy="456.2" r="3.1"/><circle cx="177.7" cy="446.3" r="3.1"/><circle cx="292.6" cy="410.6" r="3.1"/><circle cx="103.3" cy="396.5" r="3.1"/><circle cx="91.1" cy="392.7" r="3.1"/><circle cx="121.4" cy="418.9" r="3.1"/><circle cx="85.8" cy="404.5" r="3.1"/><circle cx="147.8" cy="403.4" r="3.1"/><circle cx="298.2" cy="451.1" r="3.1"/><circle cx="73.1" cy="408.5" r="3.1"/><circle cx="169.6" cy="393.3" r="3.1"/><circle cx="165.6" cy="411.5" r="3.1"/><circle cx="207.3" cy="419.5" r="3.1"/><circle cx="286.6" cy="426.5" r="3.1"/><circle cx="177.3" cy="430.9" r="3.1"/><circle cx="269.7" cy="443.0" r="3.1"/><circle cx="107.2" cy="414.4" r="3.1"/><circle cx="113.2" cy="371.2" r="3.1"/><circle cx="262.0" cy="443.6" r="3.1"/><circle cx="209.6" cy="425.5" r="3.1"/><circle cx="208.8" cy="432.8" r="3.1"/><circle cx="222.3" cy="448.7" r="3.1"/><circle cx="176.6" cy="395.7" r="3.1"/><circle cx="274.8" cy="440.4" r="3.1"/><circle cx="68.0" cy="369.7" r="3.1"/><circle cx="214.0" cy="416.2" r="3.1"/><circle cx="118.0" cy="422.2" r="3.1"/><circle cx="282.0" cy="451.2" r="3.1"/><circle cx="265.7" cy="469.0" r="3.1"/><circle cx="294.7" cy="459.4" r="3.1"/><circle cx="74.9" cy="403.0" r="3.1"/><circle cx="106.2" cy="421.5" r="3.1"/><circle cx="203.8" cy="415.9" r="3.1"/><circle cx="188.8" cy="400.3" r="3.1"/><circle cx="160.1" cy="445.9" r="3.1"/><circle cx="184.3" cy="445.9" r="3.1"/><circle cx="281.8" cy="466.2" r="3.1"/><circle cx="153.6" cy="445.3" r="3.1"/><circle cx="237.9" cy="447.3" r="3.1"/><circle cx="165.0" cy="434.7" r="3.1"/><circle cx="256.5" cy="442.4" r="3.1"/><circle cx="198.3" cy="436.5" r="3.1"/><circle cx="218.0" cy="439.0" r="3.1"/><circle cx="292.1" cy="470.4" r="3.1"/><circle cx="243.5" cy="423.1" r="3.1"/><circle cx="153.6" cy="387.7" r="3.1"/><circle cx="112.3" cy="395.4" r="3.1"/><circle cx="147.1" cy="419.0" r="3.1"/><circle cx="287.3" cy="454.1" r="3.1"/><circle cx="265.0" cy="415.1" r="3.1"/><circle cx="182.0" cy="412.5" r="3.1"/><circle cx="102.6" cy="408.7" r="3.1"/><circle cx="305.6" cy="461.8" r="3.1"/><circle cx="253.1" cy="445.9" r="3.1"/><circle cx="297.0" cy="419.1" r="3.1"/><circle cx="279.3" cy="431.3" r="3.1"/><circle cx="292.7" cy="422.1" r="3.1"/><circle cx="303.4" cy="453.6" r="3.1"/><circle cx="262.0" cy="464.7" r="3.1"/><circle cx="307.3" cy="444.1" r="3.1"/><circle cx="141.9" cy="421.9" r="3.1"/><circle cx="291.2" cy="440.7" r="3.1"/><circle cx="130.4" cy="435.8" r="3.1"/><circle cx="81.3" cy="395.1" r="3.1"/><circle cx="135.0" cy="425.3" r="3.1"/><circle cx="161.9" cy="419.4" r="3.1"/><circle cx="204.8" cy="435.2" r="3.1"/><circle cx="155.2" cy="426.2" r="3.1"/><circle cx="184.1" cy="436.4" r="3.1"/><circle cx="275.4" cy="407.5" r="3.1"/><circle cx="68.7" cy="387.0" r="3.1"/><circle cx="219.9" cy="431.5" r="3.1"/><circle cx="132.6" cy="373.6" r="3.1"/><circle cx="220.0" cy="419.5" r="3.1"/><circle cx="139.6" cy="426.9" r="3.1"/><circle cx="264.3" cy="457.9" r="3.1"/><circle cx="115.6" cy="378.1" r="3.1"/><circle cx="246.1" cy="416.7" r="3.1"/><circle cx="184.3" cy="407.8" r="3.1"/><circle cx="106.7" cy="384.8" r="3.1"/><circle cx="210.4" cy="402.4" r="3.1"/><circle cx="235.4" cy="418.8" r="3.1"/><circle cx="300.9" cy="444.2" r="3.1"/><circle cx="115.8" cy="416.5" r="3.1"/><circle cx="123.4" cy="398.9" r="3.1"/><circle cx="140.6" cy="381.1" r="3.1"/><circle cx="305.0" cy="425.9" r="3.1"/><circle cx="75.3" cy="417.0" r="3.1"/><circle cx="98.0" cy="417.3" r="3.1"/><circle cx="132.3" cy="405.7" r="3.1"/><circle cx="160.0" cy="428.2" r="3.1"/><circle cx="149.3" cy="390.9" r="3.1"/><circle cx="175.5" cy="417.5" r="3.1"/><circle cx="162.8" cy="441.0" r="3.1"/><circle cx="77.3" cy="370.0" r="3.1"/><circle cx="161.6" cy="407.6" r="3.1"/><circle cx="151.3" cy="430.0" r="3.1"/><circle cx="206.8" cy="410.1" r="3.1"/><circle cx="296.6" cy="431.7" r="3.1"/><circle cx="214.0" cy="409.2" r="3.1"/><circle cx="237.7" cy="463.0" r="3.1"/><circle cx="99.1" cy="404.8" r="3.1"/><circle cx="285.4" cy="433.8" r="3.1"/><circle cx="104.4" cy="378.1" r="3.1"/><circle cx="123.6" cy="371.6" r="3.1"/><circle cx="122.4" cy="409.4" r="3.1"/><circle cx="249.7" cy="453.9" r="3.1"/><circle cx="289.4" cy="466.5" r="3.1"/><circle cx="305.3" cy="435.8" r="3.1"/><circle cx="128.6" cy="411.8" r="3.1"/><circle cx="253.4" cy="423.2" r="3.1"/><circle cx="114.1" cy="411.1" r="3.1"/><circle cx="280.1" cy="407.7" r="3.1"/><circle cx="138.1" cy="400.5" r="3.1"/><circle cx="197.7" cy="402.8" r="3.1"/><circle cx="125.8" cy="384.2" r="3.1"/><circle cx="126.2" cy="430.0" r="3.1"/><circle cx="277.2" cy="448.5" r="3.1"/><circle cx="132.6" cy="446.7" r="3.1"/><circle cx="282.2" cy="403.0" r="3.1"/><circle cx="131.4" cy="415.8" r="3.1"/><circle cx="274.3" cy="426.6" r="3.1"/><circle cx="209.6" cy="448.8" r="3.1"/><circle cx="164.7" cy="401.9" r="3.1"/><circle cx="165.3" cy="389.6" r="3.1"/><circle cx="275.4" cy="461.4" r="3.1"/><circle cx="136.9" cy="416.7" r="3.1"/><circle cx="104.2" cy="428.2" r="3.1"/><circle cx="160.2" cy="399.8" r="3.1"/><circle cx="243.6" cy="455.2" r="3.1"/><circle cx="156.5" cy="431.6" r="3.1"/><circle cx="200.1" cy="419.1" r="3.1"/><circle cx="224.1" cy="421.7" r="3.1"/><circle cx="289.4" cy="448.3" r="3.1"/><circle cx="185.3" cy="420.7" r="3.1"/><circle cx="288.2" cy="416.6" r="3.1"/><circle cx="248.9" cy="439.9" r="3.1"/><circle cx="141.5" cy="408.8" r="3.1"/><circle cx="307.1" cy="449.1" r="3.1"/><circle cx="241.7" cy="429.3" r="3.1"/><circle cx="244.4" cy="406.0" r="3.1"/><circle cx="269.3" cy="416.8" r="3.1"/><circle cx="157.6" cy="455.5" r="3.1"/><circle cx="203.8" cy="405.9" r="3.1"/><circle cx="106.1" cy="432.5" r="3.1"/><circle cx="147.5" cy="433.4" r="3.1"/><circle cx="67.6" cy="398.6" r="3.1"/><circle cx="299.6" cy="439.6" r="3.1"/><circle cx="205.0" cy="427.4" r="3.1"/><circle cx="181.7" cy="440.8" r="3.1"/><circle cx="138.4" cy="374.7" r="3.1"/><circle cx="78.2" cy="410.1" r="3.1"/><circle cx="255.9" cy="408.0" r="3.1"/><circle cx="117.2" cy="382.9" r="3.1"/><circle cx="156.4" cy="450.1" r="3.1"/><circle cx="156.5" cy="402.8" r="3.1"/><circle cx="102.6" cy="416.7" r="3.1"/><circle cx="285.3" cy="462.4" r="3.1"/><circle cx="132.9" cy="379.6" r="3.1"/><circle cx="281.2" cy="439.5" r="3.1"/><circle cx="282.3" cy="446.5" r="3.1"/><circle cx="85.1" cy="431.6" r="3.1"/><circle cx="112.3" cy="420.7" r="3.1"/><circle cx="130.5" cy="441.2" r="3.1"/><circle cx="224.0" cy="416.7" r="3.1"/><circle cx="95.9" cy="439.1" r="3.1"/><circle cx="82.5" cy="420.5" r="3.1"/><circle cx="86.1" cy="390.1" r="3.1"/><circle cx="244.8" cy="432.8" r="3.1"/><circle cx="190.4" cy="449.2" r="3.1"/><circle cx="155.7" cy="392.1" r="3.1"/><circle cx="251.3" cy="459.1" r="3.1"/><circle cx="170.3" cy="434.9" r="3.1"/><circle cx="244.8" cy="411.2" r="3.1"/><circle cx="226.5" cy="443.5" r="3.1"/><circle cx="280.5" cy="425.1" r="3.1"/><circle cx="112.4" cy="430.8" r="3.1"/><circle cx="293.7" cy="445.0" r="3.1"/><circle cx="108.9" cy="406.4" r="3.1"/><circle cx="151.3" cy="439.4" r="3.1"/><circle cx="265.2" cy="433.1" r="3.1"/><circle cx="250.2" cy="419.8" r="3.1"/><circle cx="188.4" cy="432.6" r="3.1"/><circle cx="274.6" cy="433.1" r="3.1"/><circle cx="173.6" cy="408.9" r="3.1"/><circle cx="234.2" cy="404.0" r="3.1"/><circle cx="156.7" cy="415.5" r="3.1"/><circle cx="101.6" cy="422.8" r="3.1"/><circle cx="242.9" cy="470.0" r="3.1"/><circle cx="169.3" cy="398.1" r="3.1"/><circle cx="194.9" cy="451.3" r="3.1"/><circle cx="212.0" cy="420.4" r="3.1"/><circle cx="231.2" cy="453.8" r="3.1"/><circle cx="158.9" cy="423.1" r="3.1"/><circle cx="87.6" cy="414.6" r="3.1"/><circle cx="102.0" cy="382.1" r="3.1"/><circle cx="154.1" cy="435.7" r="3.1"/><circle cx="150.5" cy="381.2" r="3.1"/><circle cx="204.1" cy="444.9" r="3.1"/><circle cx="307.2" cy="430.2" r="3.1"/><circle cx="144.1" cy="414.5" r="3.1"/><circle cx="236.9" cy="424.9" r="3.1"/><circle cx="254.0" cy="435.9" r="3.1"/><circle cx="144.7" cy="438.9" r="3.1"/><circle cx="273.3" cy="452.2" r="3.1"/><circle cx="269.5" cy="426.5" r="3.1"/><circle cx="290.2" cy="435.8" r="3.1"/><circle cx="116.6" cy="388.7" r="3.1"/><circle cx="154.6" cy="398.4" r="3.1"/><circle cx="189.6" cy="406.8" r="3.1"/><circle cx="229.0" cy="415.6" r="3.1"/><circle cx="270.1" cy="465.5" r="3.1"/><circle cx="300.9" cy="459.5" r="3.1"/><circle cx="96.8" cy="427.3" r="3.1"/><circle cx="201.4" cy="410.5" r="3.1"/><circle cx="230.9" cy="460.6" r="3.1"/><circle cx="302.9" cy="465.5" r="3.1"/><circle cx="277.2" cy="466.9" r="3.1"/><circle cx="271.1" cy="411.3" r="3.1"/><circle cx="142.9" cy="389.4" r="3.1"/><circle cx="149.2" cy="386.1" r="3.1"/><circle cx="92.3" cy="404.7" r="3.1"/><circle cx="270.9" cy="460.6" r="3.1"/><circle cx="199.7" cy="447.0" r="3.1"/><circle cx="234.7" cy="457.8" r="3.1"/><circle cx="124.4" cy="413.8" r="3.1"/><circle cx="150.3" cy="396.3" r="3.1"/><circle cx="246.6" cy="427.9" r="3.1"/><circle cx="146.0" cy="427.1" r="3.1"/><circle cx="135.8" cy="443.1" r="3.1"/><circle cx="238.9" cy="453.2" r="3.1"/><circle cx="296.9" cy="474.4" r="3.1"/><circle cx="233.1" cy="443.8" r="3.1"/><circle cx="137.3" cy="406.5" r="3.1"/><circle cx="128.0" cy="445.7" r="3.1"/><circle cx="181.6" cy="417.4" r="3.1"/><circle cx="134.9" cy="412.3" r="3.1"/><circle cx="98.7" cy="392.8" r="3.1"/><circle cx="284.5" cy="470.4" r="3.1"/><circle cx="295.2" cy="438.3" r="3.1"/><circle cx="156.6" cy="440.6" r="3.1"/><circle cx="300.0" cy="470.1" r="3.1"/><circle cx="92.9" cy="373.1" r="3.1"/><circle cx="149.8" cy="448.1" r="3.1"/><circle cx="282.5" cy="420.7" r="3.1"/><circle cx="200.8" cy="455.4" r="3.1"/><circle cx="178.7" cy="436.0" r="3.1"/><circle cx="151.6" cy="423.1" r="3.1"/><circle cx="128.3" cy="424.6" r="3.1"/><circle cx="151.7" cy="418.0" r="3.1"/><circle cx="295.5" cy="414.3" r="3.1"/><circle cx="162.4" cy="394.7" r="3.1"/><circle cx="269.3" cy="421.8" r="3.1"/><circle cx="255.5" cy="451.1" r="3.1"/><circle cx="274.1" cy="470.7" r="3.1"/><circle cx="122.2" cy="425.8" r="3.1"/><circle cx="276.7" cy="421.0" r="3.1"/><circle cx="118.0" cy="446.4" r="3.1"/><circle cx="221.5" cy="410.3" r="3.1"/><circle cx="176.8" cy="402.6" r="3.1"/><circle cx="164.4" cy="426.3" r="3.1"/><circle cx="258.8" cy="460.9" r="3.1"/><circle cx="112.5" cy="383.7" r="3.1"/><circle cx="199.5" cy="441.6" r="3.1"/><circle cx="61.0" cy="410.4" r="3.1"/><circle cx="121.6" cy="386.7" r="3.1"/><circle cx="224.4" cy="457.7" r="3.1"/><circle cx="252.4" cy="463.7" r="3.1"/><circle cx="198.8" cy="397.4" r="3.1"/><circle cx="160.1" cy="390.6" r="3.1"/><circle cx="233.0" cy="411.0" r="3.1"/><circle cx="177.2" cy="412.0" r="3.1"/><circle cx="209.4" cy="414.8" r="3.1"/><circle cx="161.8" cy="414.3" r="3.1"/><circle cx="102.4" cy="436.9" r="3.1"/><circle cx="298.5" cy="424.8" r="3.1"/><circle cx="191.7" cy="413.8" r="3.1"/><circle cx="307.3" cy="466.5" r="3.1"/><circle cx="147.2" cy="409.8" r="3.1"/><circle cx="95.3" cy="422.4" r="3.1"/><circle cx="266.7" cy="439.3" r="3.1"/><circle cx="142.9" cy="402.1" r="3.1"/><circle cx="148.7" cy="376.0" r="3.1"/><circle cx="292.5" cy="452.9" r="3.1"/><circle cx="251.1" cy="411.5" r="3.1"/><circle cx="215.0" cy="452.7" r="3.1"/><circle cx="110.6" cy="425.0" r="3.1"/><circle cx="95.6" cy="389.2" r="3.1"/><circle cx="178.7" cy="423.0" r="3.1"/><circle cx="61.1" cy="384.3" r="3.1"/><circle cx="190.1" cy="443.6" r="3.1"/><circle cx="229.8" cy="430.2" r="3.1"/><circle cx="140.3" cy="393.3" r="3.1"/><circle cx="127.9" cy="374.7" r="3.1"/><circle cx="261.1" cy="408.0" r="3.1"/><circle cx="144.6" cy="384.6" r="3.1"/><circle cx="290.6" cy="431.1" r="3.1"/><circle cx="131.8" cy="421.0" r="3.1"/><circle cx="97.8" cy="410.2" r="3.1"/><circle cx="219.8" cy="444.0" r="3.1"/><circle cx="263.3" cy="428.5" r="3.1"/><circle cx="247.6" cy="444.6" r="3.1"/><circle cx="306.7" cy="456.9" r="3.1"/><circle cx="82.5" cy="377.7" r="3.1"/><circle cx="286.4" cy="440.6" r="3.1"/><circle cx="258.9" cy="418.1" r="3.1"/><circle cx="166.5" cy="406.8" r="3.1"/><circle cx="226.2" cy="411.3" r="3.1"/><circle cx="232.0" cy="448.7" r="3.1"/><circle cx="227.2" cy="438.0" r="3.1"/><circle cx="163.4" cy="385.2" r="3.1"/><circle cx="191.9" cy="424.9" r="3.1"/><circle cx="294.1" cy="427.3" r="3.1"/><circle cx="156.2" cy="408.7" r="3.1"/><circle cx="70.1" cy="403.7" r="3.1"/><circle cx="241.7" cy="459.7" r="3.1"/><circle cx="135.6" cy="369.6" r="3.1"/><circle cx="217.4" cy="412.7" r="3.1"/><circle cx="132.6" cy="430.8" r="3.1"/><circle cx="241.8" cy="444.9" r="3.1"/><circle cx="184.7" cy="402.8" r="3.1"/><circle cx="206.2" cy="440.2" r="3.1"/><circle cx="172.2" cy="430.5" r="3.1"/><circle cx="191.7" cy="455.0" r="3.1"/><circle cx="281.0" cy="460.8" r="3.1"/><circle cx="179.2" cy="407.2" r="3.1"/><circle cx="168.1" cy="439.6" r="3.1"/><circle cx="165.8" cy="445.9" r="3.1"/><circle cx="304.2" cy="440.6" r="3.1"/><circle cx="200.2" cy="427.7" r="3.1"/><circle cx="300.3" cy="434.5" r="3.1"/><circle cx="273.6" cy="476.2" r="3.1"/><circle cx="127.9" cy="397.2" r="3.1"/><circle cx="72.4" cy="398.7" r="3.1"/><circle cx="167.5" cy="421.3" r="3.1"/><circle cx="269.1" cy="456.3" r="3.1"/><circle cx="203.0" cy="422.7" r="3.1"/><circle cx="260.3" cy="469.3" r="3.1"/><circle cx="240.0" cy="404.5" r="3.1"/><circle cx="287.9" cy="422.1" r="3.1"/><circle cx="277.7" cy="411.6" r="3.1"/><circle cx="183.6" cy="431.8" r="3.1"/><circle cx="213.5" cy="429.0" r="3.1"/><circle cx="227.4" cy="448.1" r="3.1"/><circle cx="278.3" cy="444.0" r="3.1"/><circle cx="93.3" cy="430.7" r="3.1"/><circle cx="188.0" cy="439.3" r="3.1"/><circle cx="68.6" cy="378.8" r="3.1"/><circle cx="66.3" cy="419.9" r="3.1"/><circle cx="258.5" cy="447.5" r="3.1"/><circle cx="192.0" cy="394.3" r="3.1"/><circle cx="302.5" cy="448.7" r="3.1"/><circle cx="81.0" cy="429.3" r="3.1"/><circle cx="201.1" cy="432.3" r="3.1"/><circle cx="192.7" cy="434.6" r="3.1"/><circle cx="247.1" cy="402.3" r="3.1"/><circle cx="146.1" cy="380.1" r="3.1"/><circle cx="269.2" cy="406.8" r="3.1"/><circle cx="73.3" cy="387.4" r="3.1"/><circle cx="118.6" cy="412.4" r="3.1"/><circle cx="249.7" cy="449.2" r="3.1"/><circle cx="177.0" cy="441.6" r="3.1"/><circle cx="293.5" cy="464.3" r="3.1"/><circle cx="264.1" cy="453.2" r="3.1"/><circle cx="211.6" cy="444.6" r="3.1"/><circle cx="205.4" cy="457.4" r="3.1"/><circle cx="241.8" cy="465.2" r="3.1"/><circle cx="175.3" cy="426.7" r="3.1"/><circle cx="140.4" cy="444.4" r="3.1"/><circle cx="240.2" cy="419.8" r="3.1"/><circle cx="264.5" cy="420.0" r="3.1"/><circle cx="306.8" cy="412.0" r="3.1"/><circle cx="307.3" cy="416.5" r="3.1"/><circle cx="305.1" cy="421.0" r="3.1"/><circle cx="306.7" cy="425.5" r="3.1"/><circle cx="307.6" cy="430.0" r="3.1"/><circle cx="307.6" cy="434.5" r="3.1"/><circle cx="308.7" cy="439.0" r="3.1"/><circle cx="308.5" cy="443.5" r="3.1"/><circle cx="307.0" cy="448.0" r="3.1"/><circle cx="306.1" cy="452.5" r="3.1"/><circle cx="305.4" cy="457.0" r="3.1"/><circle cx="307.9" cy="461.5" r="3.1"/><circle cx="306.9" cy="466.0" r="3.1"/><circle cx="308.7" cy="470.5" r="3.1"/><circle cx="305.1" cy="475.0" r="3.1"/><circle cx="307.3" cy="479.5" r="3.1"/><circle cx="102.0" cy="333.1" r="3.1"/><circle cx="79.1" cy="344.7" r="3.1"/><circle cx="92.8" cy="349.0" r="3.1"/><circle cx="69.0" cy="353.8" r="3.1"/><circle cx="76.2" cy="369.5" r="3.1"/><circle cx="66.3" cy="371.9" r="3.1"/><circle cx="63.4" cy="382.0" r="3.1"/><circle cx="68.3" cy="379.6" r="3.1"/><circle cx="72.6" cy="377.2" r="3.1"/><circle cx="105.6" cy="370.0" r="3.1"/><circle cx="110.0" cy="369.5" r="3.1"/><circle cx="108.5" cy="374.8" r="3.1"/><circle cx="104.4" cy="375.5" r="3.1"/><circle cx="127.3" cy="368.8" r="3.1"/><circle cx="115.2" cy="379.6" r="3.1"/><circle cx="97.2" cy="378.4" r="3.1"/><circle cx="70.7" cy="389.3" r="3.1"/><circle cx="134.5" cy="371.2" r="3.1"/><circle cx="65.8" cy="392.4" r="3.1"/><circle cx="69.5" cy="391.2" r="3.1"/><circle cx="71.9" cy="406.9" r="3.1"/><circle cx="79.1" cy="406.9" r="3.1"/><circle cx="83.9" cy="412.9" r="3.1"/><circle cx="77.9" cy="414.1" r="3.1"/><circle cx="75.5" cy="418.9" r="3.1"/><circle cx="65.8" cy="427.3" r="3.1"/><circle cx="86.3" cy="427.3" r="3.1"/><circle cx="83.9" cy="435.8" r="3.1"/><circle cx="91.1" cy="439.4" r="3.1"/><circle cx="102.0" cy="456.3" r="3.1"/><circle cx="126.1" cy="462.3" r="3.1"/><circle cx="83.9" cy="402.0" r="3.1"/><circle cx="90.0" cy="399.6" r="3.1"/><circle cx="171.2" cy="475.8" r="3.1"/><circle cx="172.4" cy="481.8" r="3.1"/><circle cx="229.0" cy="485.4" r="3.1"/><circle cx="275.0" cy="487.2" r="3.1"/><circle cx="284.6" cy="492.8" r="3.1"/><circle cx="259.3" cy="498.0" r="3.1"/><circle cx="124.0" cy="365.0" r="3.1"/><circle cx="131.0" cy="366.0" r="3.1"/><circle cx="142.0" cy="366.0" r="3.1"/><circle cx="120.0" cy="368.0" r="3.1"/><circle cx="88.0" cy="388.0" r="3.1"/><circle cx="94.0" cy="404.0" r="3.1"/><circle cx="87.0" cy="419.0" r="3.1"/><circle cx="170.0" cy="452.0" r="3.1"/><circle cx="210.0" cy="468.0" r="3.1"/><circle cx="232.0" cy="472.0" r="3.1"/><circle cx="247.0" cy="472.0" r="3.1"/><circle cx="268.0" cy="478.0" r="3.1"/><circle cx="290.0" cy="481.0" r="3.1"/><circle cx="299.0" cy="482.0" r="3.1"/></g>
<g fill="#ffff00" stroke="#3e3e2e" stroke-width="1.1"><circle cx="282.5" cy="417.4" r="2.3"/><circle cx="256.8" cy="458.6" r="2.3"/><circle cx="139.4" cy="389.3" r="2.3"/><circle cx="235.3" cy="404.8" r="2.3"/><circle cx="304.2" cy="425.8" r="2.3"/><circle cx="127.6" cy="380.3" r="2.3"/><circle cx="254.4" cy="409.9" r="2.3"/><circle cx="106.6" cy="402.1" r="2.3"/><circle cx="160.1" cy="443.9" r="2.3"/><circle cx="111.6" cy="428.8" r="2.3"/><circle cx="219.3" cy="437.2" r="2.3"/><circle cx="186.5" cy="425.5" r="2.3"/><circle cx="220.3" cy="451.9" r="2.3"/><circle cx="211.7" cy="418.2" r="2.3"/><circle cx="132.9" cy="413.9" r="2.3"/><circle cx="260.6" cy="410.1" r="2.3"/><circle cx="279.2" cy="446.1" r="2.3"/><circle cx="184.2" cy="417.1" r="2.3"/><circle cx="259.4" cy="454.9" r="2.3"/><circle cx="205.4" cy="444.6" r="2.3"/><circle cx="265.1" cy="416.0" r="2.3"/><circle cx="130.5" cy="378.4" r="2.3"/><circle cx="276.2" cy="450.6" r="2.3"/><circle cx="267.2" cy="430.7" r="2.3"/><circle cx="284.0" cy="409.1" r="2.3"/><circle cx="212.2" cy="422.8" r="2.3"/><circle cx="159.8" cy="418.7" r="2.3"/><circle cx="208.3" cy="426.6" r="2.3"/><circle cx="257.7" cy="416.5" r="2.3"/><circle cx="296.4" cy="447.6" r="2.3"/><circle cx="177.0" cy="428.1" r="2.3"/><circle cx="135.1" cy="416.4" r="2.3"/><circle cx="228.9" cy="405.6" r="2.3"/><circle cx="108.9" cy="436.8" r="2.3"/><circle cx="227.9" cy="425.9" r="2.3"/><circle cx="169.6" cy="403.6" r="2.3"/><circle cx="118.7" cy="388.0" r="2.3"/><circle cx="83.9" cy="415.9" r="2.3"/><circle cx="272.2" cy="418.6" r="2.3"/><circle cx="297.8" cy="414.3" r="2.3"/><circle cx="131.5" cy="444.5" r="2.3"/><circle cx="135.0" cy="426.5" r="2.3"/><circle cx="177.2" cy="403.8" r="2.3"/><circle cx="281.3" cy="410.5" r="2.3"/><circle cx="99.1" cy="396.3" r="2.3"/><circle cx="173.1" cy="439.6" r="2.3"/><circle cx="250.8" cy="462.6" r="2.3"/><circle cx="157.2" cy="415.3" r="2.3"/><circle cx="189.7" cy="445.0" r="2.3"/><circle cx="96.6" cy="402.9" r="2.3"/><circle cx="269.2" cy="455.7" r="2.3"/><circle cx="178.3" cy="442.8" r="2.3"/><circle cx="126.4" cy="393.8" r="2.3"/><circle cx="174.7" cy="444.7" r="2.3"/><circle cx="178.4" cy="400.3" r="2.3"/><circle cx="150.0" cy="439.4" r="2.3"/><circle cx="306.6" cy="467.5" r="2.3"/><circle cx="301.9" cy="452.7" r="2.3"/><circle cx="240.0" cy="464.2" r="2.3"/><circle cx="113.6" cy="435.5" r="2.3"/><circle cx="162.7" cy="401.4" r="2.3"/><circle cx="203.9" cy="412.3" r="2.3"/><circle cx="98.2" cy="437.1" r="2.3"/><circle cx="277.7" cy="420.0" r="2.3"/><circle cx="170.9" cy="416.1" r="2.3"/><circle cx="147.5" cy="432.0" r="2.3"/><circle cx="133.5" cy="391.0" r="2.3"/><circle cx="246.0" cy="425.9" r="2.3"/><circle cx="180.6" cy="439.7" r="2.3"/><circle cx="265.2" cy="409.9" r="2.3"/><circle cx="156.6" cy="398.4" r="2.3"/><circle cx="192.8" cy="443.9" r="2.3"/><circle cx="219.3" cy="412.2" r="2.3"/><circle cx="223.5" cy="432.4" r="2.3"/><circle cx="154.6" cy="395.2" r="2.3"/><circle cx="299.7" cy="430.4" r="2.3"/><circle cx="266.9" cy="423.4" r="2.3"/><circle cx="239.4" cy="407.8" r="2.3"/><circle cx="261.2" cy="459.9" r="2.3"/><circle cx="248.7" cy="422.2" r="2.3"/><circle cx="244.1" cy="445.4" r="2.3"/><circle cx="236.4" cy="437.6" r="2.3"/><circle cx="266.5" cy="438.0" r="2.3"/><circle cx="119.6" cy="421.2" r="2.3"/><circle cx="260.0" cy="433.0" r="2.3"/><circle cx="284.1" cy="464.6" r="2.3"/><circle cx="216.3" cy="412.0" r="2.3"/><circle cx="301.7" cy="436.8" r="2.3"/><circle cx="213.8" cy="435.1" r="2.3"/><circle cx="162.5" cy="420.7" r="2.3"/><circle cx="264.8" cy="459.6" r="2.3"/><circle cx="104.9" cy="390.8" r="2.3"/><circle cx="165.7" cy="409.5" r="2.3"/><circle cx="178.9" cy="434.7" r="2.3"/><circle cx="123.3" cy="427.3" r="2.3"/><circle cx="120.7" cy="394.6" r="2.3"/><circle cx="202.5" cy="429.8" r="2.3"/><circle cx="229.5" cy="416.6" r="2.3"/><circle cx="120.0" cy="429.9" r="2.3"/><circle cx="251.4" cy="436.3" r="2.3"/><circle cx="275.4" cy="469.3" r="2.3"/><circle cx="258.8" cy="427.0" r="2.3"/><circle cx="110.8" cy="404.5" r="2.3"/><circle cx="139.4" cy="385.0" r="2.3"/><circle cx="146.6" cy="403.5" r="2.3"/><circle cx="203.3" cy="418.8" r="2.3"/><circle cx="129.1" cy="430.3" r="2.3"/><circle cx="119.3" cy="410.8" r="2.3"/><circle cx="289.0" cy="455.4" r="2.3"/><circle cx="293.3" cy="443.7" r="2.3"/><circle cx="300.4" cy="441.5" r="2.3"/><circle cx="192.9" cy="403.0" r="2.3"/><circle cx="272.8" cy="413.1" r="2.3"/><circle cx="283.4" cy="454.4" r="2.3"/><circle cx="223.6" cy="448.2" r="2.3"/><circle cx="299.9" cy="419.4" r="2.3"/><circle cx="258.2" cy="439.9" r="2.3"/><circle cx="117.5" cy="424.3" r="2.3"/><circle cx="260.7" cy="447.0" r="2.3"/><circle cx="221.0" cy="446.3" r="2.3"/><circle cx="285.1" cy="447.7" r="2.3"/><circle cx="124.6" cy="384.0" r="2.3"/><circle cx="178.9" cy="413.4" r="2.3"/><circle cx="111.1" cy="395.1" r="2.3"/><circle cx="131.4" cy="409.8" r="2.3"/><circle cx="91.3" cy="396.9" r="2.3"/><circle cx="173.7" cy="434.4" r="2.3"/><circle cx="135.3" cy="430.3" r="2.3"/><circle cx="264.2" cy="431.2" r="2.3"/><circle cx="205.8" cy="449.4" r="2.3"/><circle cx="235.3" cy="414.4" r="2.3"/><circle cx="244.8" cy="433.3" r="2.3"/><circle cx="163.5" cy="444.7" r="2.3"/><circle cx="296.5" cy="419.5" r="2.3"/><circle cx="206.4" cy="438.6" r="2.3"/><circle cx="278.4" cy="408.4" r="2.3"/><circle cx="255.6" cy="447.2" r="2.3"/><circle cx="292.4" cy="472.9" r="2.3"/><circle cx="306.6" cy="456.8" r="2.3"/><circle cx="112.6" cy="398.0" r="2.3"/><circle cx="293.7" cy="426.4" r="2.3"/><circle cx="139.7" cy="424.7" r="2.3"/><circle cx="206.1" cy="420.9" r="2.3"/><circle cx="256.3" cy="462.7" r="2.3"/><circle cx="189.7" cy="399.8" r="2.3"/><circle cx="238.8" cy="441.3" r="2.3"/><circle cx="218.2" cy="443.6" r="2.3"/><circle cx="187.8" cy="448.4" r="2.3"/><circle cx="151.3" cy="434.3" r="2.3"/><circle cx="221.5" cy="442.3" r="2.3"/><circle cx="110.6" cy="424.6" r="2.3"/><circle cx="238.3" cy="457.1" r="2.3"/><circle cx="271.5" cy="463.2" r="2.3"/><circle cx="288.2" cy="466.6" r="2.3"/><circle cx="143.8" cy="418.6" r="2.3"/><circle cx="195.2" cy="448.1" r="2.3"/><circle cx="102.0" cy="408.6" r="2.3"/><circle cx="247.6" cy="443.9" r="2.3"/><circle cx="145.9" cy="438.2" r="2.3"/><circle cx="194.3" cy="435.0" r="2.3"/><circle cx="179.9" cy="424.6" r="2.3"/><circle cx="247.1" cy="450.4" r="2.3"/><circle cx="273.6" cy="466.0" r="2.3"/><circle cx="193.5" cy="429.4" r="2.3"/><circle cx="103.7" cy="420.6" r="2.3"/><circle cx="272.5" cy="458.8" r="2.3"/><circle cx="199.2" cy="423.1" r="2.3"/><circle cx="289.5" cy="441.6" r="2.3"/><circle cx="131.8" cy="384.5" r="2.3"/><circle cx="170.8" cy="430.0" r="2.3"/><circle cx="124.3" cy="409.0" r="2.3"/><circle cx="122.6" cy="406.3" r="2.3"/><circle cx="225.9" cy="444.3" r="2.3"/><circle cx="279.0" cy="440.4" r="2.3"/><circle cx="175.9" cy="412.9" r="2.3"/><circle cx="149.9" cy="389.0" r="2.3"/><circle cx="170.6" cy="443.9" r="2.3"/><circle cx="167.6" cy="399.7" r="2.3"/><circle cx="246.9" cy="440.0" r="2.3"/><circle cx="159.0" cy="428.5" r="2.3"/><circle cx="183.3" cy="405.2" r="2.3"/><circle cx="100.9" cy="425.5" r="2.3"/><circle cx="127.4" cy="406.3" r="2.3"/><circle cx="164.7" cy="433.7" r="2.3"/><circle cx="141.1" cy="421.4" r="2.3"/><circle cx="156.6" cy="434.4" r="2.3"/><circle cx="213.4" cy="411.3" r="2.3"/><circle cx="165.5" cy="418.1" r="2.3"/><circle cx="237.8" cy="452.3" r="2.3"/><circle cx="304.3" cy="463.4" r="2.3"/><circle cx="290.5" cy="468.7" r="2.3"/><circle cx="144.2" cy="379.0" r="2.3"/><circle cx="131.7" cy="426.1" r="2.3"/><circle cx="155.6" cy="448.9" r="2.3"/><circle cx="189.4" cy="424.4" r="2.3"/><circle cx="103.7" cy="428.3" r="2.3"/><circle cx="267.2" cy="418.8" r="2.3"/><circle cx="168.6" cy="392.6" r="2.3"/><circle cx="169.3" cy="411.4" r="2.3"/><circle cx="133.5" cy="406.7" r="2.3"/><circle cx="208.9" cy="414.3" r="2.3"/><circle cx="125.6" cy="423.5" r="2.3"/><circle cx="293.5" cy="438.9" r="2.3"/><circle cx="209.1" cy="440.1" r="2.3"/><circle cx="137.2" cy="422.2" r="2.3"/><circle cx="214.6" cy="452.7" r="2.3"/><circle cx="285.0" cy="435.9" r="2.3"/><circle cx="255.0" cy="436.7" r="2.3"/><circle cx="293.8" cy="430.9" r="2.3"/><circle cx="140.8" cy="408.4" r="2.3"/><circle cx="80.3" cy="420.4" r="2.3"/><circle cx="227.0" cy="412.8" r="2.3"/><circle cx="298.8" cy="424.8" r="2.3"/><circle cx="241.9" cy="451.0" r="2.3"/><circle cx="115.6" cy="401.8" r="2.3"/><circle cx="102.0" cy="434.4" r="2.3"/><circle cx="242.2" cy="431.0" r="2.3"/><circle cx="305.2" cy="437.1" r="2.3"/><circle cx="173.6" cy="407.5" r="2.3"/><circle cx="294.9" cy="466.4" r="2.3"/><circle cx="180.4" cy="418.4" r="2.3"/><circle cx="276.9" cy="424.8" r="2.3"/><circle cx="121.1" cy="413.5" r="2.3"/><circle cx="159.9" cy="422.8" r="2.3"/><circle cx="127.4" cy="442.4" r="2.3"/><circle cx="224.6" cy="453.5" r="2.3"/><circle cx="186.9" cy="438.9" r="2.3"/><circle cx="173.7" cy="429.0" r="2.3"/><circle cx="184.6" cy="411.8" r="2.3"/><circle cx="206.8" cy="434.1" r="2.3"/><circle cx="114.8" cy="440.3" r="2.3"/><circle cx="259.6" cy="465.0" r="2.3"/><circle cx="253.2" cy="455.7" r="2.3"/><circle cx="307.4" cy="462.1" r="2.3"/><circle cx="163.3" cy="393.6" r="2.3"/><circle cx="162.2" cy="396.5" r="2.3"/><circle cx="250.8" cy="427.1" r="2.3"/><circle cx="230.5" cy="436.0" r="2.3"/><circle cx="246.9" cy="460.1" r="2.3"/><circle cx="168.2" cy="426.3" r="2.3"/><circle cx="240.0" cy="412.6" r="2.3"/><circle cx="155.5" cy="427.5" r="2.3"/><circle cx="268.2" cy="407.5" r="2.3"/><circle cx="299.0" cy="462.4" r="2.3"/><circle cx="277.8" cy="436.4" r="2.3"/><circle cx="194.0" cy="452.6" r="2.3"/><circle cx="98.1" cy="420.9" r="2.3"/><circle cx="131.2" cy="421.1" r="2.3"/><circle cx="233.1" cy="417.4" r="2.3"/><circle cx="224.6" cy="418.3" r="2.3"/><circle cx="124.4" cy="431.3" r="2.3"/><circle cx="155.0" cy="443.8" r="2.3"/><circle cx="115.2" cy="394.5" r="2.3"/><circle cx="264.6" cy="435.5" r="2.3"/><circle cx="268.8" cy="435.1" r="2.3"/><circle cx="228.9" cy="455.8" r="2.3"/><circle cx="144.2" cy="411.6" r="2.3"/><circle cx="148.1" cy="408.0" r="2.3"/><circle cx="147.6" cy="400.6" r="2.3"/><circle cx="202.9" cy="415.3" r="2.3"/><circle cx="149.4" cy="416.1" r="2.3"/><circle cx="286.9" cy="420.5" r="2.3"/><circle cx="139.7" cy="443.3" r="2.3"/><circle cx="84.0" cy="411.9" r="2.3"/><circle cx="291.8" cy="434.9" r="2.3"/><circle cx="71.9" cy="394.7" r="2.3"/><circle cx="290.2" cy="419.2" r="2.3"/><circle cx="148.4" cy="396.8" r="2.3"/><circle cx="104.0" cy="436.9" r="2.3"/><circle cx="115.9" cy="414.7" r="2.3"/><circle cx="144.1" cy="434.8" r="2.3"/><circle cx="92.6" cy="401.1" r="2.3"/><circle cx="125.9" cy="437.9" r="2.3"/><circle cx="227.1" cy="421.7" r="2.3"/><circle cx="99.5" cy="416.1" r="2.3"/><circle cx="239.4" cy="421.3" r="2.3"/><circle cx="307.6" cy="432.8" r="2.3"/><circle cx="253.1" cy="441.8" r="2.3"/><circle cx="190.0" cy="408.6" r="2.3"/><circle cx="140.9" cy="432.1" r="2.3"/><circle cx="144.9" cy="422.7" r="2.3"/><circle cx="260.5" cy="436.4" r="2.3"/><circle cx="140.8" cy="437.1" r="2.3"/><circle cx="165.3" cy="428.7" r="2.3"/><circle cx="291.7" cy="459.0" r="2.3"/><circle cx="276.1" cy="458.8" r="2.3"/><circle cx="307.9" cy="444.5" r="2.3"/><circle cx="155.2" cy="440.6" r="2.3"/><circle cx="295.1" cy="453.4" r="2.3"/><circle cx="202.9" cy="442.1" r="2.3"/><circle cx="231.1" cy="409.4" r="2.3"/><circle cx="86.9" cy="427.9" r="2.3"/><circle cx="298.7" cy="469.8" r="2.3"/><circle cx="307.5" cy="447.5" r="2.3"/><circle cx="126.6" cy="427.5" r="2.3"/><circle cx="230.0" cy="443.1" r="2.3"/><circle cx="104.4" cy="396.7" r="2.3"/><circle cx="129.5" cy="397.9" r="2.3"/><circle cx="265.6" cy="446.9" r="2.3"/><circle cx="219.2" cy="425.0" r="2.3"/><circle cx="263.3" cy="443.4" r="2.3"/><circle cx="114.0" cy="424.4" r="2.3"/><circle cx="142.9" cy="414.6" r="2.3"/><circle cx="162.9" cy="423.8" r="2.3"/><circle cx="263.4" cy="424.8" r="2.3"/><circle cx="109.6" cy="385.0" r="2.3"/><circle cx="226.6" cy="438.4" r="2.3"/><circle cx="275.5" cy="409.7" r="2.3"/><circle cx="211.9" cy="430.7" r="2.3"/><circle cx="285.6" cy="431.4" r="2.3"/><circle cx="189.0" cy="433.7" r="2.3"/><circle cx="221.6" cy="420.4" r="2.3"/><circle cx="164.4" cy="414.9" r="2.3"/><circle cx="162.1" cy="407.8" r="2.3"/><circle cx="284.9" cy="439.8" r="2.3"/><circle cx="146.3" cy="382.3" r="2.3"/><circle cx="268.1" cy="449.0" r="2.3"/><circle cx="146.5" cy="389.9" r="2.3"/><circle cx="152.2" cy="424.5" r="2.3"/><circle cx="288.0" cy="449.9" r="2.3"/><circle cx="152.7" cy="412.1" r="2.3"/><circle cx="211.7" cy="450.2" r="2.3"/><circle cx="276.1" cy="439.2" r="2.3"/><circle cx="127.3" cy="434.5" r="2.3"/><circle cx="135.2" cy="442.9" r="2.3"/><circle cx="226.2" cy="460.0" r="2.3"/><circle cx="206.6" cy="454.6" r="2.3"/><circle cx="274.5" cy="454.9" r="2.3"/><circle cx="184.7" cy="399.0" r="2.3"/><circle cx="191.3" cy="417.7" r="2.3"/><circle cx="232.5" cy="429.5" r="2.3"/><circle cx="181.1" cy="431.6" r="2.3"/><circle cx="126.9" cy="376.5" r="2.3"/><circle cx="184.0" cy="442.4" r="2.3"/><circle cx="129.4" cy="392.0" r="2.3"/><circle cx="134.3" cy="386.7" r="2.3"/><circle cx="186.7" cy="429.2" r="2.3"/><circle cx="252.7" cy="415.4" r="2.3"/><circle cx="306.1" cy="440.1" r="2.3"/><circle cx="234.8" cy="455.3" r="2.3"/><circle cx="225.9" cy="407.1" r="2.3"/><circle cx="122.1" cy="441.4" r="2.3"/><circle cx="231.9" cy="423.9" r="2.3"/><circle cx="160.9" cy="434.8" r="2.3"/><circle cx="152.5" cy="430.3" r="2.3"/><circle cx="110.0" cy="401.4" r="2.3"/><circle cx="196.7" cy="417.3" r="2.3"/><circle cx="153.5" cy="387.0" r="2.3"/><circle cx="295.8" cy="462.1" r="2.3"/><circle cx="270.5" cy="467.9" r="2.3"/><circle cx="116.9" cy="433.1" r="2.3"/><circle cx="165.7" cy="391.0" r="2.3"/><circle cx="255.7" cy="424.2" r="2.3"/><circle cx="231.4" cy="412.9" r="2.3"/><circle cx="286.0" cy="460.5" r="2.3"/><circle cx="105.5" cy="385.9" r="2.3"/><circle cx="182.4" cy="448.9" r="2.3"/><circle cx="217.8" cy="428.2" r="2.3"/><circle cx="145.0" cy="396.7" r="2.3"/><circle cx="123.3" cy="400.0" r="2.3"/><circle cx="286.1" cy="428.1" r="2.3"/><circle cx="157.1" cy="389.3" r="2.3"/><circle cx="140.1" cy="405.4" r="2.3"/><circle cx="169.3" cy="439.5" r="2.3"/><circle cx="164.1" cy="438.7" r="2.3"/><circle cx="248.4" cy="408.6" r="2.3"/><circle cx="84.7" cy="420.6" r="2.3"/><circle cx="264.7" cy="456.4" r="2.3"/><circle cx="274.0" cy="406.5" r="2.3"/><circle cx="267.7" cy="461.2" r="2.3"/><circle cx="246.2" cy="412.5" r="2.3"/><circle cx="234.0" cy="421.2" r="2.3"/><circle cx="123.7" cy="387.1" r="2.3"/><circle cx="243.1" cy="466.3" r="2.3"/><circle cx="158.1" cy="384.9" r="2.3"/><circle cx="256.4" cy="453.1" r="2.3"/><circle cx="136.1" cy="393.0" r="2.3"/><circle cx="253.0" cy="449.5" r="2.3"/><circle cx="232.8" cy="458.7" r="2.3"/><circle cx="289.1" cy="413.0" r="2.3"/><circle cx="70.1" cy="389.1" r="2.3"/><circle cx="232.5" cy="445.4" r="2.3"/><circle cx="198.4" cy="444.9" r="2.3"/><circle cx="303.1" cy="429.9" r="2.3"/><circle cx="106.1" cy="407.3" r="2.3"/><circle cx="223.2" cy="410.8" r="2.3"/><circle cx="107.6" cy="418.4" r="2.3"/><circle cx="201.5" cy="449.8" r="2.3"/><circle cx="197.6" cy="426.5" r="2.3"/><circle cx="293.3" cy="456.5" r="2.3"/><circle cx="201.9" cy="404.5" r="2.3"/><circle cx="158.7" cy="395.5" r="2.3"/><circle cx="268.1" cy="413.6" r="2.3"/><circle cx="156.1" cy="420.0" r="2.3"/><circle cx="148.8" cy="442.5" r="2.3"/><circle cx="285.4" cy="413.6" r="2.3"/><circle cx="181.4" cy="411.0" r="2.3"/><circle cx="280.9" cy="438.2" r="2.3"/><circle cx="114.4" cy="411.1" r="2.3"/><circle cx="298.3" cy="454.5" r="2.3"/><circle cx="246.1" cy="453.5" r="2.3"/><circle cx="251.1" cy="406.2" r="2.3"/><circle cx="185.6" cy="446.1" r="2.3"/><circle cx="216.7" cy="457.2" r="2.3"/><circle cx="96.4" cy="386.3" r="2.3"/><circle cx="143.5" cy="400.0" r="2.3"/><circle cx="267.9" cy="440.8" r="2.3"/><circle cx="252.0" cy="423.5" r="2.3"/><circle cx="202.7" cy="424.5" r="2.3"/><circle cx="241.5" cy="458.8" r="2.3"/><circle cx="271.6" cy="443.7" r="2.3"/><circle cx="221.2" cy="457.0" r="2.3"/><circle cx="244.3" cy="456.0" r="2.3"/><circle cx="283.1" cy="443.7" r="2.3"/><circle cx="301.7" cy="460.7" r="2.3"/><circle cx="194.0" cy="414.2" r="2.3"/><circle cx="180.0" cy="446.9" r="2.3"/><circle cx="215.2" cy="418.5" r="2.3"/><circle cx="155.0" cy="405.4" r="2.3"/><circle cx="271.5" cy="448.8" r="2.3"/><circle cx="272.0" cy="433.0" r="2.3"/><circle cx="177.2" cy="420.3" r="2.3"/><circle cx="105.0" cy="431.5" r="2.3"/><circle cx="250.8" cy="439.2" r="2.3"/><circle cx="177.2" cy="407.3" r="2.3"/><circle cx="232.6" cy="450.0" r="2.3"/><circle cx="111.7" cy="413.0" r="2.3"/><circle cx="212.8" cy="439.5" r="2.3"/><circle cx="137.1" cy="381.7" r="2.3"/><circle cx="217.6" cy="448.7" r="2.3"/><circle cx="167.8" cy="431.8" r="2.3"/><circle cx="173.6" cy="417.9" r="2.3"/><circle cx="120.2" cy="384.9" r="2.3"/><circle cx="203.9" cy="456.9" r="2.3"/><circle cx="211.3" cy="443.6" r="2.3"/><circle cx="112.3" cy="390.5" r="2.3"/><circle cx="290.6" cy="463.8" r="2.3"/><circle cx="168.5" cy="396.8" r="2.3"/><circle cx="106.8" cy="434.2" r="2.3"/><circle cx="89.9" cy="422.7" r="2.3"/><circle cx="244.7" cy="416.9" r="2.3"/><circle cx="197.4" cy="432.3" r="2.3"/><circle cx="127.6" cy="409.8" r="2.3"/><circle cx="124.1" cy="380.3" r="2.3"/><circle cx="300.1" cy="448.5" r="2.3"/><circle cx="287.1" cy="425.3" r="2.3"/><circle cx="279.7" cy="457.2" r="2.3"/><circle cx="161.1" cy="412.0" r="2.3"/><circle cx="264.0" cy="467.2" r="2.3"/><circle cx="263.2" cy="412.6" r="2.3"/><circle cx="276.1" cy="427.8" r="2.3"/><circle cx="151.5" cy="409.0" r="2.3"/><circle cx="244.5" cy="461.9" r="2.3"/><circle cx="170.7" cy="424.3" r="2.3"/><circle cx="210.5" cy="456.3" r="2.3"/><circle cx="246.5" cy="465.5" r="2.3"/><circle cx="229.0" cy="451.4" r="2.3"/><circle cx="239.3" cy="434.5" r="2.3"/><circle cx="152.8" cy="446.0" r="2.3"/><circle cx="277.9" cy="414.9" r="2.3"/><circle cx="163.0" cy="404.5" r="2.3"/><circle cx="182.5" cy="395.5" r="2.3"/><circle cx="268.4" cy="444.0" r="2.3"/><circle cx="236.8" cy="411.0" r="2.3"/><circle cx="209.7" cy="447.2" r="2.3"/><circle cx="293.4" cy="447.8" r="2.3"/><circle cx="107.9" cy="398.4" r="2.3"/><circle cx="125.4" cy="403.8" r="2.3"/><circle cx="134.2" cy="438.5" r="2.3"/><circle cx="183.5" cy="433.9" r="2.3"/><circle cx="261.7" cy="419.2" r="2.3"/><circle cx="279.3" cy="466.5" r="2.3"/><circle cx="120.6" cy="390.8" r="2.3"/><circle cx="235.9" cy="430.4" r="2.3"/><circle cx="199.5" cy="408.0" r="2.3"/><circle cx="108.5" cy="388.0" r="2.3"/><circle cx="151.5" cy="399.3" r="2.3"/><circle cx="271.9" cy="428.8" r="2.3"/><circle cx="237.7" cy="424.0" r="2.3"/><circle cx="131.0" cy="388.4" r="2.3"/><circle cx="293.0" cy="414.8" r="2.3"/><circle cx="139.9" cy="396.6" r="2.3"/><circle cx="160.7" cy="449.8" r="2.3"/><circle cx="166.9" cy="442.2" r="2.3"/><circle cx="198.3" cy="410.8" r="2.3"/><circle cx="198.4" cy="451.6" r="2.3"/><circle cx="284.0" cy="468.5" r="2.3"/><circle cx="241.6" cy="423.5" r="2.3"/><circle cx="117.7" cy="406.3" r="2.3"/><circle cx="148.6" cy="426.9" r="2.3"/><circle cx="135.6" cy="404.3" r="2.3"/><circle cx="293.8" cy="423.0" r="2.3"/><circle cx="131.5" cy="434.1" r="2.3"/><circle cx="109.3" cy="421.6" r="2.3"/><circle cx="193.8" cy="423.2" r="2.3"/><circle cx="150.9" cy="382.0" r="2.3"/><circle cx="115.5" cy="386.6" r="2.3"/><circle cx="111.4" cy="407.8" r="2.3"/><circle cx="119.9" cy="380.9" r="2.3"/><circle cx="248.9" cy="416.0" r="2.3"/><circle cx="128.2" cy="386.4" r="2.3"/><circle cx="271.1" cy="439.4" r="2.3"/><circle cx="108.6" cy="431.0" r="2.3"/><circle cx="297.1" cy="437.5" r="2.3"/><circle cx="129.3" cy="401.8" r="2.3"/><circle cx="245.6" cy="436.4" r="2.3"/><circle cx="193.1" cy="440.6" r="2.3"/><circle cx="183.4" cy="428.2" r="2.3"/><circle cx="137.5" cy="436.4" r="2.3"/><circle cx="136.7" cy="399.5" r="2.3"/><circle cx="258.7" cy="412.5" r="2.3"/><circle cx="193.8" cy="426.2" r="2.3"/><circle cx="133.7" cy="381.1" r="2.3"/><circle cx="194.9" cy="420.3" r="2.3"/><circle cx="92.6" cy="405.9" r="2.3"/><circle cx="114.3" cy="404.5" r="2.3"/><circle cx="64.6" cy="397.6" r="2.3"/><circle cx="188.3" cy="413.7" r="2.3"/><circle cx="240.7" cy="427.6" r="2.3"/><circle cx="296.9" cy="472.6" r="2.3"/><circle cx="174.2" cy="449.7" r="2.3"/><circle cx="140.2" cy="428.6" r="2.3"/><circle cx="153.5" cy="383.7" r="2.3"/><circle cx="232.3" cy="404.6" r="2.3"/><circle cx="167.1" cy="406.8" r="2.3"/><circle cx="116.0" cy="421.6" r="2.3"/><circle cx="125.3" cy="416.0" r="2.3"/><circle cx="301.7" cy="455.7" r="2.3"/><circle cx="281.1" cy="428.1" r="2.3"/><circle cx="194.2" cy="408.8" r="2.3"/><circle cx="242.4" cy="439.6" r="2.3"/><circle cx="250.1" cy="456.9" r="2.3"/><circle cx="158.8" cy="431.5" r="2.3"/><circle cx="148.3" cy="436.2" r="2.3"/><circle cx="217.3" cy="406.0" r="2.3"/><circle cx="288.5" cy="473.7" r="2.3"/><circle cx="243.9" cy="421.1" r="2.3"/><circle cx="114.1" cy="431.0" r="2.3"/><circle cx="261.8" cy="429.4" r="2.3"/><circle cx="276.5" cy="464.1" r="2.3"/><circle cx="159.0" cy="438.4" r="2.3"/><circle cx="292.5" cy="410.8" r="2.3"/><circle cx="224.0" cy="422.8" r="2.3"/><circle cx="209.6" cy="460.2" r="2.3"/><circle cx="156.7" cy="402.4" r="2.3"/><circle cx="302.9" cy="445.6" r="2.3"/><circle cx="175.2" cy="431.6" r="2.3"/><circle cx="133.0" cy="401.5" r="2.3"/><circle cx="218.2" cy="432.2" r="2.3"/><circle cx="301.9" cy="422.0" r="2.3"/><circle cx="272.7" cy="471.5" r="2.3"/><circle cx="216.0" cy="424.6" r="2.3"/><circle cx="112.4" cy="382.8" r="2.3"/><circle cx="302.4" cy="467.7" r="2.3"/><circle cx="130.2" cy="404.9" r="2.3"/><circle cx="107.3" cy="393.2" r="2.3"/><circle cx="297.4" cy="442.4" r="2.3"/><circle cx="215.5" cy="421.5" r="2.3"/><circle cx="282.0" cy="422.8" r="2.3"/><circle cx="191.7" cy="437.3" r="2.3"/><circle cx="191.3" cy="448.1" r="2.3"/><circle cx="208.7" cy="430.3" r="2.3"/><circle cx="172.6" cy="402.3" r="2.3"/><circle cx="176.4" cy="440.2" r="2.3"/><circle cx="155.1" cy="410.0" r="2.3"/><circle cx="300.7" cy="473.1" r="2.3"/><circle cx="117.8" cy="436.8" r="2.3"/><circle cx="201.3" cy="437.5" r="2.3"/><circle cx="102.9" cy="413.4" r="2.3"/><circle cx="204.0" cy="451.8" r="2.3"/><circle cx="152.1" cy="420.7" r="2.3"/><circle cx="305.4" cy="453.2" r="2.3"/><circle cx="93.3" cy="394.4" r="2.3"/><circle cx="162.2" cy="441.0" r="2.3"/><circle cx="137.4" cy="411.7" r="2.3"/><circle cx="209.9" cy="435.1" r="2.3"/><circle cx="281.5" cy="472.2" r="2.3"/><circle cx="221.6" cy="416.6" r="2.3"/><circle cx="234.8" cy="461.2" r="2.3"/><circle cx="161.6" cy="391.1" r="2.3"/><circle cx="186.3" cy="422.2" r="2.3"/><circle cx="97.1" cy="399.5" r="2.3"/><circle cx="262.3" cy="454.3" r="2.3"/><circle cx="228.8" cy="447.5" r="2.3"/><circle cx="253.9" cy="420.9" r="2.3"/><circle cx="297.0" cy="431.6" r="2.3"/><circle cx="286.0" cy="444.4" r="2.3"/><circle cx="258.2" cy="444.8" r="2.3"/><circle cx="125.5" cy="389.8" r="2.3"/><circle cx="93.0" cy="424.4" r="2.3"/><circle cx="295.5" cy="469.7" r="2.3"/><circle cx="142.6" cy="394.1" r="2.3"/><circle cx="148.5" cy="392.6" r="2.3"/><circle cx="117.4" cy="392.1" r="2.3"/><circle cx="271.8" cy="453.0" r="2.3"/><circle cx="183.6" cy="424.6" r="2.3"/><circle cx="261.4" cy="468.7" r="2.3"/><circle cx="123.0" cy="421.6" r="2.3"/><circle cx="103.8" cy="417.2" r="2.3"/><circle cx="89.7" cy="391.6" r="2.3"/><circle cx="222.6" cy="437.1" r="2.3"/><circle cx="123.8" cy="392.2" r="2.3"/><circle cx="128.4" cy="415.5" r="2.3"/><circle cx="198.5" cy="414.5" r="2.3"/><circle cx="108.6" cy="414.6" r="2.3"/><circle cx="169.1" cy="420.0" r="2.3"/><circle cx="196.6" cy="405.9" r="2.3"/><circle cx="260.2" cy="422.0" r="2.3"/><circle cx="244.1" cy="409.6" r="2.3"/><circle cx="238.4" cy="445.9" r="2.3"/><circle cx="274.8" cy="461.8" r="2.3"/><circle cx="213.6" cy="427.3" r="2.3"/><circle cx="132.6" cy="418.3" r="2.3"/><circle cx="205.9" cy="424.6" r="2.3"/><circle cx="281.6" cy="413.7" r="2.3"/><circle cx="287.8" cy="434.2" r="2.3"/><circle cx="273.5" cy="425.0" r="2.3"/><circle cx="251.6" cy="446.1" r="2.3"/><circle cx="267.0" cy="464.6" r="2.3"/><circle cx="120.5" cy="417.7" r="2.3"/><circle cx="287.4" cy="408.6" r="2.3"/><circle cx="207.8" cy="417.5" r="2.3"/><circle cx="107.2" cy="427.4" r="2.3"/><circle cx="196.7" cy="441.0" r="2.3"/><circle cx="257.0" cy="407.0" r="2.3"/><circle cx="290.2" cy="446.9" r="2.3"/><circle cx="250.6" cy="467.5" r="2.3"/><circle cx="101.5" cy="391.0" r="2.3"/><circle cx="231.6" cy="463.3" r="2.3"/><circle cx="280.4" cy="434.5" r="2.3"/><circle cx="224.4" cy="457.1" r="2.3"/><circle cx="234.9" cy="425.1" r="2.3"/><circle cx="112.6" cy="420.2" r="2.3"/><circle cx="173.2" cy="392.4" r="2.3"/><circle cx="220.6" cy="406.3" r="2.3"/><circle cx="227.2" cy="428.9" r="2.3"/><circle cx="156.3" cy="423.5" r="2.3"/><circle cx="256.5" cy="466.7" r="2.3"/><circle cx="229.9" cy="420.2" r="2.3"/><circle cx="207.4" cy="407.7" r="2.3"/><circle cx="216.3" cy="438.8" r="2.3"/><circle cx="280.9" cy="463.4" r="2.3"/><circle cx="162.6" cy="430.2" r="2.3"/><circle cx="243.6" cy="404.7" r="2.3"/><circle cx="254.5" cy="444.4" r="2.3"/><circle cx="99.9" cy="413.0" r="2.3"/><circle cx="287.9" cy="470.8" r="2.3"/><circle cx="276.9" cy="444.0" r="2.3"/><circle cx="265.4" cy="450.1" r="2.3"/><circle cx="131.6" cy="394.7" r="2.3"/><circle cx="145.5" cy="446.2" r="2.3"/><circle cx="142.4" cy="444.9" r="2.3"/><circle cx="202.1" cy="434.4" r="2.3"/><circle cx="94.3" cy="432.1" r="2.3"/><circle cx="177.6" cy="451.8" r="2.3"/><circle cx="241.7" cy="436.3" r="2.3"/><circle cx="204.5" cy="406.1" r="2.3"/><circle cx="94.1" cy="398.4" r="2.3"/><circle cx="154.0" cy="415.5" r="2.3"/><circle cx="220.6" cy="430.4" r="2.3"/><circle cx="283.0" cy="425.7" r="2.3"/><circle cx="140.4" cy="418.3" r="2.3"/><circle cx="231.2" cy="432.5" r="2.3"/><circle cx="282.3" cy="458.7" r="2.3"/><circle cx="166.5" cy="402.5" r="2.3"/><circle cx="291.1" cy="453.2" r="2.3"/><circle cx="198.2" cy="402.5" r="2.3"/><circle cx="238.7" cy="431.1" r="2.3"/><circle cx="253.0" cy="458.7" r="2.3"/><circle cx="185.3" cy="402.6" r="2.3"/><circle cx="139.9" cy="401.4" r="2.3"/><circle cx="235.6" cy="443.1" r="2.3"/><circle cx="186.7" cy="408.2" r="2.3"/><circle cx="202.9" cy="409.0" r="2.3"/><circle cx="120.4" cy="401.1" r="2.3"/><circle cx="250.8" cy="412.7" r="2.3"/><circle cx="254.7" cy="417.8" r="2.3"/><circle cx="213.6" cy="446.2" r="2.3"/><circle cx="223.7" cy="428.6" r="2.3"/><circle cx="121.2" cy="424.0" r="2.3"/><circle cx="258.5" cy="450.6" r="2.3"/><circle cx="146.9" cy="385.2" r="2.3"/><circle cx="195.7" cy="438.1" r="2.3"/><circle cx="148.5" cy="446.1" r="2.3"/><circle cx="153.9" cy="390.5" r="2.3"/><circle cx="190.5" cy="405.6" r="2.3"/><circle cx="111.0" cy="433.1" r="2.3"/><circle cx="93.4" cy="428.6" r="2.3"/><circle cx="304.3" cy="432.9" r="2.3"/><circle cx="290.9" cy="424.1" r="2.3"/><circle cx="170.9" cy="398.7" r="2.3"/><circle cx="208.6" cy="450.6" r="2.3"/><circle cx="160.1" cy="399.5" r="2.3"/><circle cx="120.5" cy="435.5" r="2.3"/><circle cx="142.2" cy="387.3" r="2.3"/><circle cx="162.1" cy="426.7" r="2.3"/><circle cx="178.9" cy="394.5" r="2.3"/><circle cx="185.9" cy="451.5" r="2.3"/><circle cx="210.4" cy="409.8" r="2.3"/><circle cx="209.5" cy="420.1" r="2.3"/><circle cx="241.5" cy="447.0" r="2.3"/><circle cx="149.8" cy="405.0" r="2.3"/><circle cx="100.5" cy="429.1" r="2.3"/><circle cx="256.3" cy="430.3" r="2.3"/><circle cx="213.1" cy="407.7" r="2.3"/><circle cx="72.5" cy="391.7" r="2.3"/><circle cx="127.7" cy="420.3" r="2.3"/><circle cx="270.7" cy="422.6" r="2.3"/><circle cx="131.4" cy="439.7" r="2.3"/><circle cx="247.2" cy="419.5" r="2.3"/><circle cx="206.8" cy="457.6" r="2.3"/><circle cx="175.4" cy="400.6" r="2.3"/><circle cx="116.7" cy="397.9" r="2.3"/><circle cx="274.0" cy="436.9" r="2.3"/><circle cx="211.4" cy="453.4" r="2.3"/><circle cx="125.0" cy="412.7" r="2.3"/><circle cx="148.7" cy="423.2" r="2.3"/><circle cx="282.1" cy="431.1" r="2.3"/><circle cx="295.1" cy="434.9" r="2.3"/><circle cx="248.7" cy="434.1" r="2.3"/><circle cx="197.7" cy="435.9" r="2.3"/><circle cx="304.6" cy="448.5" r="2.3"/><circle cx="250.9" cy="431.0" r="2.3"/><circle cx="255.1" cy="433.3" r="2.3"/><circle cx="172.5" cy="410.6" r="2.3"/><circle cx="283.0" cy="451.4" r="2.3"/><circle cx="242.6" cy="414.8" r="2.3"/><circle cx="116.6" cy="417.7" r="2.3"/><circle cx="274.6" cy="430.5" r="2.3"/><circle cx="285.7" cy="417.7" r="2.3"/><circle cx="143.9" cy="431.7" r="2.3"/><circle cx="263.1" cy="462.6" r="2.3"/><circle cx="132.6" cy="398.5" r="2.3"/><circle cx="278.0" cy="472.1" r="2.3"/><circle cx="181.4" cy="444.3" r="2.3"/><circle cx="152.3" cy="437.1" r="2.3"/><circle cx="250.8" cy="419.8" r="2.3"/><circle cx="121.4" cy="377.2" r="2.3"/><circle cx="306.4" cy="429.3" r="2.3"/><circle cx="298.8" cy="451.5" r="2.3"/><circle cx="214.0" cy="442.3" r="2.3"/><circle cx="279.4" cy="453.3" r="2.3"/><circle cx="200.3" cy="419.6" r="2.3"/><circle cx="238.4" cy="449.4" r="2.3"/><circle cx="96.8" cy="394.5" r="2.3"/><circle cx="170.0" cy="434.6" r="2.3"/><circle cx="139.6" cy="379.8" r="2.3"/><circle cx="174.0" cy="397.5" r="2.3"/><circle cx="267.4" cy="453.3" r="2.3"/><circle cx="297.9" cy="457.9" r="2.3"/><circle cx="194.7" cy="399.9" r="2.3"/><circle cx="134.8" cy="434.2" r="2.3"/><circle cx="270.0" cy="426.1" r="2.3"/><circle cx="298.8" cy="434.5" r="2.3"/><circle cx="190.2" cy="430.0" r="2.3"/><circle cx="124.1" cy="434.6" r="2.3"/><circle cx="144.4" cy="441.6" r="2.3"/><circle cx="86.5" cy="397.2" r="2.3"/><circle cx="232.3" cy="439.9" r="2.3"/><circle cx="117.8" cy="441.9" r="2.3"/><circle cx="288.5" cy="430.0" r="2.3"/><circle cx="226.4" cy="431.9" r="2.3"/><circle cx="120.0" cy="397.8" r="2.3"/><circle cx="260.6" cy="442.0" r="2.3"/><circle cx="112.1" cy="416.1" r="2.3"/><circle cx="235.1" cy="447.0" r="2.3"/><circle cx="240.4" cy="454.0" r="2.3"/><circle cx="172.1" cy="420.4" r="2.3"/><circle cx="234.6" cy="408.9" r="2.3"/><circle cx="116.8" cy="381.0" r="2.3"/><circle cx="174.3" cy="424.9" r="2.3"/><circle cx="106.6" cy="424.3" r="2.3"/><circle cx="271.2" cy="408.2" r="2.3"/><circle cx="139.5" cy="393.2" r="2.3"/><circle cx="102.0" cy="405.5" r="2.3"/><circle cx="199.7" cy="440.9" r="2.3"/><circle cx="216.7" cy="415.7" r="2.3"/><circle cx="89.8" cy="403.4" r="2.3"/><circle cx="126.5" cy="400.4" r="2.3"/><circle cx="148.9" cy="411.1" r="2.3"/><circle cx="250.4" cy="452.3" r="2.3"/><circle cx="167.3" cy="448.1" r="2.3"/><circle cx="212.6" cy="459.1" r="2.3"/><circle cx="304.7" cy="460.1" r="2.3"/><circle cx="170.8" cy="394.7" r="2.3"/><circle cx="175.8" cy="436.5" r="2.3"/><circle cx="264.5" cy="440.5" r="2.3"/><circle cx="151.3" cy="394.7" r="2.3"/><circle cx="187.0" cy="443.2" r="2.3"/><circle cx="105.7" cy="439.3" r="2.3"/><circle cx="183.2" cy="438.2" r="2.3"/><circle cx="121.1" cy="438.6" r="2.3"/><circle cx="287.3" cy="463.5" r="2.3"/><circle cx="257.0" cy="420.3" r="2.3"/><circle cx="188.7" cy="452.5" r="2.3"/><circle cx="177.6" cy="416.8" r="2.3"/><circle cx="137.5" cy="419.0" r="2.3"/><circle cx="143.3" cy="382.7" r="2.3"/><circle cx="140.3" cy="412.2" r="2.3"/><circle cx="240.3" cy="417.1" r="2.3"/><circle cx="158.6" cy="409.9" r="2.3"/><circle cx="134.2" cy="421.8" r="2.3"/><circle cx="253.0" cy="465.2" r="2.3"/><circle cx="288.9" cy="437.4" r="2.3"/><circle cx="213.3" cy="414.9" r="2.3"/><circle cx="299.7" cy="444.9" r="2.3"/><circle cx="186.2" cy="436.0" r="2.3"/><circle cx="255.8" cy="413.4" r="2.3"/><circle cx="247.8" cy="429.2" r="2.3"/><circle cx="158.4" cy="406.3" r="2.3"/><circle cx="144.0" cy="375.9" r="2.3"/><circle cx="124.5" cy="418.9" r="2.3"/><circle cx="280.0" cy="449.8" r="2.3"/><circle cx="275.6" cy="434.2" r="2.3"/><circle cx="140.7" cy="440.2" r="2.3"/><circle cx="237.0" cy="419.4" r="2.3"/><circle cx="116.9" cy="429.4" r="2.3"/><circle cx="238.6" cy="460.2" r="2.3"/><circle cx="303.6" cy="442.7" r="2.3"/><circle cx="167.8" cy="415.3" r="2.3"/><circle cx="109.3" cy="391.1" r="2.3"/><circle cx="176.6" cy="447.2" r="2.3"/><circle cx="226.5" cy="435.1" r="2.3"/><circle cx="220.3" cy="434.3" r="2.3"/><circle cx="123.9" cy="395.3" r="2.3"/><circle cx="181.6" cy="398.6" r="2.3"/><circle cx="165.5" cy="395.8" r="2.3"/><circle cx="274.2" cy="447.3" r="2.3"/><circle cx="201.4" cy="445.9" r="2.3"/><circle cx="142.4" cy="390.3" r="2.3"/><circle cx="143.0" cy="403.2" r="2.3"/><circle cx="278.2" cy="461.1" r="2.3"/><circle cx="234.0" cy="434.3" r="2.3"/><circle cx="164.5" cy="388.2" r="2.3"/><circle cx="147.8" cy="420.3" r="2.3"/><circle cx="129.0" cy="437.7" r="2.3"/><circle cx="229.1" cy="459.5" r="2.3"/><circle cx="144.3" cy="428.1" r="2.3"/><circle cx="300.8" cy="427.2" r="2.3"/><circle cx="302.8" cy="470.7" r="2.3"/><circle cx="177.7" cy="410.6" r="2.3"/><circle cx="262.0" cy="415.7" r="2.3"/><circle cx="101.4" cy="399.6" r="2.3"/><circle cx="293.2" cy="451.0" r="2.3"/><circle cx="189.8" cy="441.6" r="2.3"/><circle cx="205.7" cy="429.8" r="2.3"/><circle cx="132.2" cy="429.3" r="2.3"/><circle cx="90.3" cy="426.3" r="2.3"/><circle cx="297.0" cy="427.9" r="2.3"/><circle cx="243.8" cy="427.8" r="2.3"/><circle cx="183.2" cy="408.6" r="2.3"/><circle cx="170.3" cy="407.7" r="2.3"/><circle cx="180.9" cy="403.4" r="2.3"/><circle cx="168.6" cy="389.6" r="2.3"/><circle cx="191.3" cy="420.7" r="2.3"/><circle cx="160.3" cy="415.3" r="2.3"/><circle cx="218.6" cy="420.7" r="2.3"/><circle cx="114.9" cy="407.6" r="2.3"/><circle cx="109.9" cy="410.6" r="2.3"/><circle cx="267.4" cy="467.6" r="2.3"/><circle cx="191.1" cy="411.9" r="2.3"/><circle cx="180.1" cy="428.0" r="2.3"/><circle cx="188.1" cy="417.6" r="2.3"/><circle cx="225.2" cy="441.3" r="2.3"/><circle cx="298.4" cy="466.4" r="2.3"/><circle cx="136.1" cy="396.5" r="2.3"/><circle cx="112.3" cy="386.4" r="2.3"/><circle cx="158.8" cy="392.5" r="2.3"/><circle cx="248.2" cy="447.0" r="2.3"/><circle cx="183.1" cy="419.8" r="2.3"/><circle cx="128.5" cy="424.6" r="2.3"/><circle cx="266.9" cy="426.5" r="2.3"/><circle cx="102.2" cy="394.0" r="2.3"/><circle cx="145.1" cy="406.5" r="2.3"/><circle cx="165.6" cy="421.4" r="2.3"/><circle cx="201.9" cy="454.7" r="2.3"/><circle cx="208.1" cy="443.1" r="2.3"/><circle cx="152.5" cy="402.8" r="2.3"/><circle cx="253.9" cy="426.6" r="2.3"/><circle cx="128.5" cy="383.5" r="2.3"/><circle cx="143.3" cy="425.3" r="2.3"/><circle cx="137.6" cy="441.2" r="2.3"/><circle cx="288.6" cy="458.4" r="2.3"/><circle cx="206.0" cy="415.0" r="2.3"/><circle cx="269.4" cy="410.7" r="2.3"/><circle cx="232.3" cy="453.1" r="2.3"/><circle cx="83.8" cy="427.4" r="2.3"/><circle cx="278.8" cy="431.0" r="2.3"/><circle cx="262.1" cy="449.9" r="2.3"/><circle cx="93.5" cy="391.5" r="2.3"/><circle cx="213.5" cy="456.2" r="2.3"/><circle cx="207.3" cy="411.1" r="2.3"/><circle cx="136.6" cy="408.5" r="2.3"/><circle cx="159.9" cy="403.2" r="2.3"/><circle cx="199.3" cy="429.3" r="2.3"/><circle cx="192.2" cy="432.9" r="2.3"/><circle cx="279.8" cy="469.7" r="2.3"/><circle cx="103.1" cy="387.8" r="2.3"/><circle cx="152.0" cy="417.7" r="2.3"/><circle cx="157.7" cy="445.7" r="2.3"/><circle cx="139.1" cy="415.6" r="2.3"/><circle cx="151.9" cy="443.1" r="2.3"/><circle cx="263.6" cy="471.1" r="2.3"/><circle cx="265.0" cy="421.1" r="2.3"/><circle cx="180.2" cy="407.7" r="2.3"/><circle cx="166.4" cy="436.5" r="2.3"/><circle cx="269.3" cy="416.5" r="2.3"/><circle cx="146.3" cy="415.6" r="2.3"/><circle cx="227.9" cy="409.5" r="2.3"/><circle cx="140.4" cy="447.2" r="2.3"/><circle cx="303.0" cy="439.6" r="2.3"/><circle cx="293.5" cy="418.6" r="2.3"/><circle cx="274.9" cy="416.8" r="2.3"/><circle cx="214.7" cy="449.1" r="2.3"/><circle cx="99.7" cy="403.4" r="2.3"/><circle cx="286.5" cy="453.4" r="2.3"/><circle cx="290.6" cy="427.6" r="2.3"/><circle cx="218.2" cy="454.0" r="2.3"/><circle cx="120.5" cy="404.2" r="2.3"/><circle cx="151.0" cy="385.4" r="2.3"/><circle cx="216.9" cy="409.0" r="2.3"/><circle cx="173.1" cy="413.9" r="2.3"/><circle cx="244.7" cy="448.5" r="2.3"/><circle cx="274.6" cy="441.8" r="2.3"/><circle cx="246.4" cy="405.7" r="2.3"/><circle cx="273.8" cy="421.9" r="2.3"/><circle cx="188.3" cy="403.6" r="2.3"/><circle cx="284.7" cy="473.7" r="2.3"/><circle cx="220.8" cy="427.5" r="2.3"/><circle cx="300.9" cy="464.7" r="2.3"/><circle cx="278.4" cy="411.8" r="2.3"/><circle cx="220.1" cy="409.2" r="2.3"/><circle cx="279.5" cy="417.5" r="2.3"/><circle cx="166.5" cy="412.5" r="2.3"/><circle cx="247.1" cy="457.0" r="2.3"/><circle cx="244.2" cy="442.2" r="2.3"/><circle cx="99.0" cy="434.1" r="2.3"/><circle cx="283.4" cy="420.2" r="2.3"/><circle cx="285.0" cy="422.9" r="2.3"/><circle cx="167.9" cy="423.2" r="2.3"/><circle cx="208.9" cy="423.4" r="2.3"/><circle cx="241.6" cy="443.6" r="2.3"/><circle cx="223.7" cy="404.8" r="2.3"/><circle cx="129.4" cy="412.1" r="2.3"/><circle cx="224.7" cy="415.0" r="2.3"/><circle cx="262.1" cy="407.5" r="2.3"/><circle cx="137.7" cy="432.7" r="2.3"/><circle cx="285.8" cy="457.2" r="2.3"/><circle cx="160.8" cy="446.8" r="2.3"/><circle cx="166.6" cy="445.1" r="2.3"/><circle cx="216.7" cy="435.8" r="2.3"/><circle cx="226.2" cy="450.0" r="2.3"/><circle cx="181.7" cy="414.9" r="2.3"/><circle cx="136.4" cy="389.2" r="2.3"/><circle cx="105.1" cy="399.5" r="2.3"/><circle cx="177.0" cy="397.6" r="2.3"/><circle cx="95.8" cy="422.9" r="2.3"/><circle cx="307.1" cy="450.6" r="2.3"/><circle cx="198.3" cy="448.3" r="2.3"/><circle cx="126.1" cy="397.5" r="2.3"/><circle cx="186.2" cy="432.2" r="2.3"/><circle cx="158.3" cy="441.5" r="2.3"/><circle cx="237.7" cy="427.3" r="2.3"/><circle cx="288.4" cy="416.2" r="2.3"/><circle cx="224.8" cy="425.8" r="2.3"/><circle cx="147.5" cy="379.4" r="2.3"/><circle cx="100.9" cy="422.4" r="2.3"/><circle cx="230.9" cy="426.9" r="2.3"/><circle cx="119.6" cy="426.8" r="2.3"/><circle cx="180.5" cy="421.7" r="2.3"/><circle cx="222.0" cy="413.6" r="2.3"/><circle cx="155.7" cy="431.2" r="2.3"/><circle cx="215.3" cy="430.2" r="2.3"/><circle cx="145.3" cy="392.8" r="2.3"/><circle cx="300.5" cy="416.4" r="2.3"/><circle cx="229.3" cy="440.0" r="2.3"/><circle cx="115.5" cy="389.7" r="2.3"/><circle cx="204.0" cy="427.1" r="2.3"/><circle cx="134.5" cy="411.4" r="2.3"/><circle cx="114.4" cy="427.7" r="2.3"/><circle cx="162.5" cy="417.5" r="2.3"/><circle cx="239.4" cy="438.2" r="2.3"/><circle cx="250.2" cy="442.4" r="2.3"/><circle cx="292.8" cy="461.8" r="2.3"/><circle cx="257.7" cy="435.1" r="2.3"/><circle cx="155.4" cy="437.5" r="2.3"/><circle cx="255.2" cy="439.7" r="2.3"/><circle cx="251.4" cy="409.3" r="2.3"/><circle cx="178.2" cy="431.0" r="2.3"/><circle cx="177.1" cy="423.5" r="2.3"/><circle cx="295.1" cy="459.1" r="2.3"/><circle cx="282.2" cy="446.9" r="2.3"/><circle cx="195.5" cy="411.6" r="2.3"/><circle cx="121.6" cy="432.6" r="2.3"/><circle cx="281.2" cy="407.5" r="2.3"/><circle cx="89.5" cy="359.6" r="2.3"/><circle cx="114.8" cy="359.1" r="2.3"/><circle cx="118.9" cy="370.0" r="2.3"/><circle cx="120.5" cy="373.6" r="2.3"/><circle cx="128.5" cy="373.6" r="2.3"/><circle cx="64.6" cy="392.9" r="2.3"/><circle cx="64.6" cy="397.0" r="2.3"/><circle cx="64.6" cy="400.6" r="2.3"/><circle cx="77.2" cy="394.6" r="2.3"/><circle cx="80.3" cy="391.7" r="2.3"/><circle cx="84.4" cy="385.2" r="2.3"/><circle cx="84.4" cy="390.5" r="2.3"/><circle cx="92.3" cy="383.2" r="2.3"/><circle cx="96.4" cy="382.0" r="2.3"/><circle cx="100.3" cy="383.2" r="2.3"/><circle cx="100.8" cy="387.6" r="2.3"/><circle cx="99.6" cy="392.9" r="2.3"/><circle cx="106.8" cy="385.7" r="2.3"/><circle cx="111.6" cy="383.2" r="2.3"/><circle cx="65.8" cy="397.2" r="2.3"/><circle cx="65.8" cy="400.8" r="2.3"/><circle cx="74.3" cy="410.5" r="2.3"/><circle cx="74.3" cy="414.1" r="2.3"/><circle cx="79.1" cy="392.4" r="2.3"/><circle cx="84.4" cy="390.0" r="2.3"/><circle cx="80.3" cy="439.4" r="2.3"/><circle cx="91.0" cy="426.0" r="2.3"/><circle cx="92.3" cy="431.0" r="2.3"/><circle cx="256.4" cy="478.8" r="2.3"/><circle cx="302.2" cy="485.5" r="2.3"/><circle cx="260.5" cy="491.3" r="2.3"/><circle cx="220.6" cy="474.6" r="2.3"/><circle cx="181.0" cy="459.0" r="2.3"/><circle cx="124.0" cy="377.0" r="2.3"/><circle cx="145.0" cy="374.0" r="2.3"/><circle cx="150.0" cy="369.0" r="2.3"/><circle cx="88.0" cy="410.0" r="2.3"/><circle cx="86.0" cy="433.0" r="2.3"/></g>
<path d="M52.800000000000004,323.4H55.6M52.800000000000004,372.9H55.6M52.800000000000004,422.4H55.6M52.800000000000004,471.9H55.6M55.6,507.4V509.4M108.2,507.4V509.4M160.8,507.4V509.4M213.5,507.4V509.4M266.1,507.4V509.4M318.7,507.4V509.4" stroke="#666" stroke-width="1" fill="none"/>
<text class="t" x="47.6" y="326.8" text-anchor="end">1.0</text>
<text class="t" x="47.6" y="376.3" text-anchor="end">0.5</text>
<text class="t" x="47.6" y="425.8" text-anchor="end">0.0</text>
<text class="t" x="47.6" y="475.3" text-anchor="end">−0.5</text>
<text class="t" x="54.3" y="524.2" text-anchor="middle">−0.6</text>
<text class="t" x="106.9" y="524.2" text-anchor="middle">−0.4</text>
<text class="t" x="159.5" y="524.2" text-anchor="middle">−0.2</text>
<text class="t" x="213.5" y="524.2" text-anchor="middle">0.0</text>
<text class="t" x="266.1" y="524.2" text-anchor="middle">0.2</text>
<text class="t" x="318.7" y="524.2" text-anchor="middle">0.4</text>
<text class="at" x="185.7" y="544.7" text-anchor="middle">ΔCDF</text>
<text class="at" transform="translate(21.3,415) rotate(-90)" text-anchor="middle">ΔCH</text>
<text class="pl" x="6.6" y="335.4">B</text>
<text class="b" x="172.9" y="341.8" fill="#000" text-anchor="middle">Q3 (12.3%)</text>
<text class="b" x="182.7" y="358.3" fill="#bdb81e" text-anchor="middle">11.2%</text>
<text class="b" x="283.45" y="341.8" fill="#000" text-anchor="middle">Q4 (3.1%)</text>
<text class="b" x="295.2" y="358.3" fill="#bdb81e" text-anchor="middle">2.6%</text>
<text class="b" x="105.9" y="485.3" fill="#bdb81e" text-anchor="middle">27.7%</text>
<text class="b" x="95.35" y="501" fill="#000" text-anchor="middle">Q2 (25.5%)</text>
<text class="b" x="235.4" y="499.3" fill="#000" text-anchor="middle">59.1%</text>
<text class="b" x="236.1" y="515" fill="#bdb81e" text-anchor="middle">58.5%</text>
<text class="b" x="305.7" y="499.6" fill="#000" text-anchor="middle">Q1</text>
</svg></body></html>
